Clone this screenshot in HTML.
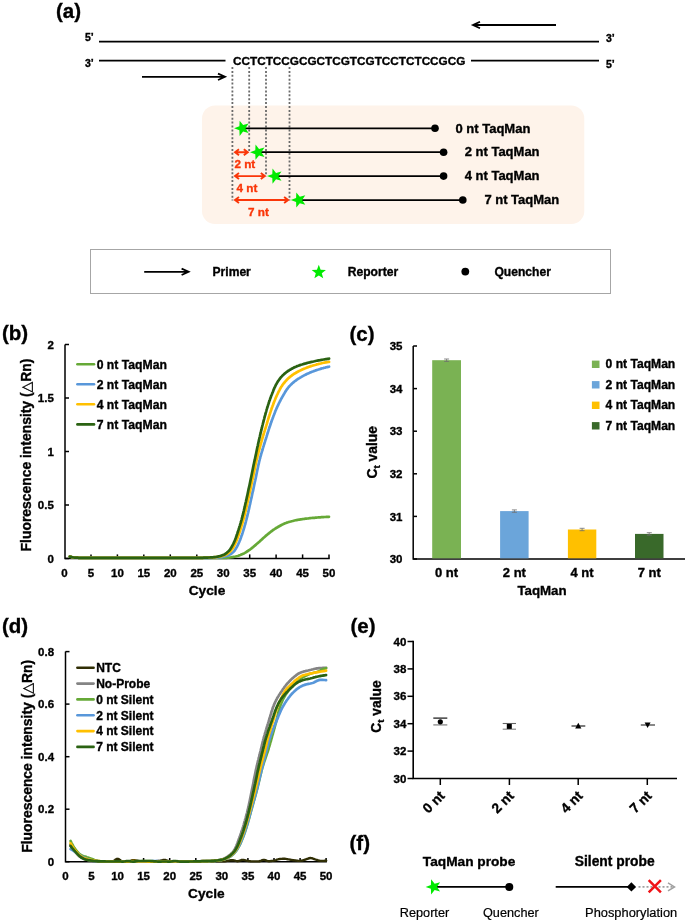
<!DOCTYPE html>
<html lang="en"><head><meta charset="utf-8"><title>TaqMan probe figure</title>
<style>html,body{margin:0;padding:0;background:#fff}body{width:685px;height:923px;overflow:hidden}svg{display:block}</style>
</head><body>
<svg width="685" height="923" viewBox="0 0 685 923" font-family='"Liberation Sans", "DejaVu Sans", sans-serif'>
<rect width="685" height="923" fill="#fff"/>
<text x="56" y="17.5" font-size="20.5" font-weight="bold" text-anchor="start" fill="#000" stroke="#000" stroke-width="0.35" >(a)</text>
<line x1="99" y1="41.7" x2="599" y2="41.7" stroke="#000" stroke-width="1.8"/>
<line x1="99" y1="60.7" x2="225.5" y2="60.7" stroke="#000" stroke-width="1.8"/>
<line x1="471" y1="60.7" x2="599" y2="60.7" stroke="#000" stroke-width="1.8"/>
<text x="85" y="41.4" font-size="10.5" font-weight="bold" text-anchor="start" fill="#000" stroke="#000" stroke-width="0.35" >5’</text>
<text x="85" y="67.3" font-size="10.5" font-weight="bold" text-anchor="start" fill="#000" stroke="#000" stroke-width="0.35" >3’</text>
<text x="606" y="41.5" font-size="10.5" font-weight="bold" text-anchor="start" fill="#000" stroke="#000" stroke-width="0.35" >3’</text>
<text x="606" y="68" font-size="10.5" font-weight="bold" text-anchor="start" fill="#000" stroke="#000" stroke-width="0.35" >5’</text>
<text x="233" y="65" font-size="11.75" font-weight="bold" text-anchor="start" fill="#000" stroke="#000" stroke-width="0.35" >CCTCTCCGCGCTCGTCGTCCTCTCCGCG</text>
<path d="M142,76.8 L225,76.8 M218,73.6 L225,76.8 L218,80.0" fill="none" stroke="#000" stroke-width="1.8" stroke-linejoin="miter"/>
<path d="M556,25 L473,25 M480,21.8 L473,25 L480,28.2" fill="none" stroke="#000" stroke-width="1.8" stroke-linejoin="miter"/>
<rect x="202" y="105.5" width="382.3" height="118.6" rx="13" fill="#fef3ea"/>
<line x1="232.4" y1="67" x2="232.4" y2="200.5" stroke="#6a6a6a" stroke-width="1.8" stroke-dasharray="2 1.9"/>
<line x1="249.2" y1="67" x2="249.2" y2="152.8" stroke="#6a6a6a" stroke-width="1.8" stroke-dasharray="2 1.9"/>
<line x1="266" y1="67" x2="266" y2="176.6" stroke="#6a6a6a" stroke-width="1.8" stroke-dasharray="2 1.9"/>
<line x1="289.5" y1="67" x2="289.5" y2="200.5" stroke="#6a6a6a" stroke-width="1.8" stroke-dasharray="2 1.9"/>
<line x1="242.1" y1="128.3" x2="435" y2="128.3" stroke="#000" stroke-width="1.75"/>
<circle cx="435" cy="128.3" r="3.8" fill="#000"/>
<polygon points="234.10,128.30 239.38,130.27 239.63,135.91 243.14,131.50 248.57,133.00 245.46,128.30 248.57,123.60 243.14,125.10 239.63,120.69 239.38,126.33" fill="#00ea00"/>
<line x1="258" y1="152.2" x2="443.6" y2="152.2" stroke="#000" stroke-width="1.75"/>
<circle cx="443.6" cy="152.2" r="3.8" fill="#000"/>
<polygon points="250.00,152.20 255.28,154.17 255.53,159.81 259.04,155.40 264.47,156.90 261.36,152.20 264.47,147.50 259.04,149.00 255.53,144.59 255.28,150.23" fill="#00ea00"/>
<line x1="275" y1="176.1" x2="443.6" y2="176.1" stroke="#000" stroke-width="1.75"/>
<circle cx="443.6" cy="176.1" r="3.8" fill="#000"/>
<polygon points="267.00,176.10 272.28,178.07 272.53,183.71 276.04,179.30 281.47,180.80 278.36,176.10 281.47,171.40 276.04,172.90 272.53,168.49 272.28,174.13" fill="#00ea00"/>
<line x1="298.8" y1="200" x2="462.8" y2="200" stroke="#000" stroke-width="1.75"/>
<circle cx="462.8" cy="200" r="3.8" fill="#000"/>
<polygon points="290.80,200.00 296.08,201.97 296.33,207.61 299.84,203.20 305.27,204.70 302.16,200.00 305.27,195.30 299.84,196.80 296.33,192.39 296.08,198.03" fill="#00ea00"/>
<text x="455.5" y="132.6" font-size="13.0" font-weight="bold" text-anchor="start" fill="#000" stroke="#000" stroke-width="0.35" >0 nt TaqMan</text>
<text x="464.7" y="156.4" font-size="13.0" font-weight="bold" text-anchor="start" fill="#000" stroke="#000" stroke-width="0.35" >2 nt TaqMan</text>
<text x="464.7" y="180.4" font-size="13.0" font-weight="bold" text-anchor="start" fill="#000" stroke="#000" stroke-width="0.35" >4 nt TaqMan</text>
<text x="484.4" y="204.4" font-size="13.0" font-weight="bold" text-anchor="start" fill="#000" stroke="#000" stroke-width="0.35" >7 nt TaqMan</text>
<path d="M235.0,152.2 L247.8,152.2 M239.0,149.2 L235.0,152.2 L239.0,155.2 M243.8,149.2 L247.8,152.2 L243.8,155.2" fill="none" stroke="#fa3609" stroke-width="1.9"/>
<path d="M235.0,176.1 L264.8,176.1 M239.0,173.1 L235.0,176.1 L239.0,179.1 M260.8,173.1 L264.8,176.1 L260.8,179.1" fill="none" stroke="#fa3609" stroke-width="1.9"/>
<path d="M235.0,200 L288.1,200 M239.0,197 L235.0,200 L239.0,203 M284.1,197 L288.1,200 L284.1,203" fill="none" stroke="#fa3609" stroke-width="1.9"/>
<text x="234.4" y="168" font-size="11.7" font-weight="bold" text-anchor="start" fill="#fa3609" stroke="#fa3609" stroke-width="0.35" >2 nt</text>
<text x="236.6" y="191.5" font-size="11.7" font-weight="bold" text-anchor="start" fill="#fa3609" stroke="#fa3609" stroke-width="0.35" >4 nt</text>
<text x="248" y="215.5" font-size="11.7" font-weight="bold" text-anchor="start" fill="#fa3609" stroke="#fa3609" stroke-width="0.35" >7 nt</text>
<rect x="90.5" y="249.5" width="520" height="44" fill="#fff" stroke="#a6a6a6" stroke-width="1"/>
<path d="M144.2,271.8 L188.6,271.8 M181.6,268.6 L188.6,271.8 L181.6,275.0" fill="none" stroke="#000" stroke-width="1.8" stroke-linejoin="miter"/>
<text x="212.5" y="276.3" font-size="12.1" font-weight="bold" text-anchor="start" fill="#000" stroke="#000" stroke-width="0.35" >Primer</text>
<polygon points="318.80,264.80 316.95,269.75 311.67,269.98 315.80,273.27 314.39,278.37 318.80,275.45 323.21,278.37 321.80,273.27 325.93,269.98 320.65,269.75" fill="#00ea00"/>
<text x="347.7" y="276.3" font-size="12.1" font-weight="bold" text-anchor="start" fill="#000" stroke="#000" stroke-width="0.35" >Reporter</text>
<circle cx="465.3" cy="271.6" r="3.9" fill="#000"/>
<text x="494.4" y="276.3" font-size="12.1" font-weight="bold" text-anchor="start" fill="#000" stroke="#000" stroke-width="0.35" >Quencher</text>
<text x="2" y="340.3" font-size="20.5" font-weight="bold" text-anchor="start" fill="#000" stroke="#000" stroke-width="0.35" >(b)</text>
<path d="M65,344.5 L65,558.5 L329.7,558.5" fill="none" stroke="#000" stroke-width="1.5"/>
<line x1="65" y1="558.5" x2="69" y2="558.5" stroke="#000" stroke-width="1.5"/>
<text x="53.8" y="562.5" font-size="11.5" font-weight="bold" text-anchor="end" fill="#000" stroke="#000" stroke-width="0.35" >0</text>
<line x1="65" y1="505.0" x2="69" y2="505.0" stroke="#000" stroke-width="1.5"/>
<text x="53.8" y="509.0" font-size="11.5" font-weight="bold" text-anchor="end" fill="#000" stroke="#000" stroke-width="0.35" >0.5</text>
<line x1="65" y1="451.5" x2="69" y2="451.5" stroke="#000" stroke-width="1.5"/>
<text x="53.8" y="455.5" font-size="11.5" font-weight="bold" text-anchor="end" fill="#000" stroke="#000" stroke-width="0.35" >1</text>
<line x1="65" y1="398.0" x2="69" y2="398.0" stroke="#000" stroke-width="1.5"/>
<text x="53.8" y="402.0" font-size="11.5" font-weight="bold" text-anchor="end" fill="#000" stroke="#000" stroke-width="0.35" >1.5</text>
<line x1="65" y1="344.5" x2="69" y2="344.5" stroke="#000" stroke-width="1.5"/>
<text x="53.8" y="348.5" font-size="11.5" font-weight="bold" text-anchor="end" fill="#000" stroke="#000" stroke-width="0.35" >2</text>
<text x="64.5" y="577.2" font-size="11.5" font-weight="bold" text-anchor="middle" fill="#000" stroke="#000" stroke-width="0.35" >0</text>
<line x1="91.0" y1="558.5" x2="91.0" y2="554.4" stroke="#000" stroke-width="1.5"/>
<text x="91.0" y="577.2" font-size="11.5" font-weight="bold" text-anchor="middle" fill="#000" stroke="#000" stroke-width="0.35" >5</text>
<line x1="117.4" y1="558.5" x2="117.4" y2="554.4" stroke="#000" stroke-width="1.5"/>
<text x="117.4" y="577.2" font-size="11.5" font-weight="bold" text-anchor="middle" fill="#000" stroke="#000" stroke-width="0.35" >10</text>
<line x1="143.8" y1="558.5" x2="143.8" y2="554.4" stroke="#000" stroke-width="1.5"/>
<text x="143.8" y="577.2" font-size="11.5" font-weight="bold" text-anchor="middle" fill="#000" stroke="#000" stroke-width="0.35" >15</text>
<line x1="170.3" y1="558.5" x2="170.3" y2="554.4" stroke="#000" stroke-width="1.5"/>
<text x="170.3" y="577.2" font-size="11.5" font-weight="bold" text-anchor="middle" fill="#000" stroke="#000" stroke-width="0.35" >20</text>
<line x1="196.8" y1="558.5" x2="196.8" y2="554.4" stroke="#000" stroke-width="1.5"/>
<text x="196.8" y="577.2" font-size="11.5" font-weight="bold" text-anchor="middle" fill="#000" stroke="#000" stroke-width="0.35" >25</text>
<line x1="223.2" y1="558.5" x2="223.2" y2="554.4" stroke="#000" stroke-width="1.5"/>
<text x="223.2" y="577.2" font-size="11.5" font-weight="bold" text-anchor="middle" fill="#000" stroke="#000" stroke-width="0.35" >30</text>
<line x1="249.7" y1="558.5" x2="249.7" y2="554.4" stroke="#000" stroke-width="1.5"/>
<text x="249.7" y="577.2" font-size="11.5" font-weight="bold" text-anchor="middle" fill="#000" stroke="#000" stroke-width="0.35" >35</text>
<line x1="276.1" y1="558.5" x2="276.1" y2="554.4" stroke="#000" stroke-width="1.5"/>
<text x="276.1" y="577.2" font-size="11.5" font-weight="bold" text-anchor="middle" fill="#000" stroke="#000" stroke-width="0.35" >40</text>
<line x1="302.6" y1="558.5" x2="302.6" y2="554.4" stroke="#000" stroke-width="1.5"/>
<text x="302.6" y="577.2" font-size="11.5" font-weight="bold" text-anchor="middle" fill="#000" stroke="#000" stroke-width="0.35" >45</text>
<line x1="329.0" y1="558.5" x2="329.0" y2="554.4" stroke="#000" stroke-width="1.5"/>
<text x="329.0" y="577.2" font-size="11.5" font-weight="bold" text-anchor="middle" fill="#000" stroke="#000" stroke-width="0.35" >50</text>
<text x="207" y="595.1" font-size="13.7" font-weight="bold" text-anchor="middle" fill="#000" stroke="#000" stroke-width="0.35" >Cycle</text>
<text transform="translate(30.9,455) rotate(-90)" font-size="13.9" font-weight="bold" stroke="#000" stroke-width="0.35" text-anchor="middle">Fluorescence intensity (<tspan font-weight="normal">△</tspan>Rn)</text>
<path d="M69.8,556.6 L70.8,556.8 L71.8,557.1 L72.7,557.3 L73.7,557.5 L74.7,557.6 L75.7,557.7 L76.7,557.7 L77.7,557.7 L78.7,557.8 L79.7,557.8 L80.7,557.8 L81.7,557.8 L82.7,557.8 L83.7,557.9 L84.7,557.9 L85.7,557.9 L86.7,557.9 L87.7,557.9 L88.7,557.9 L89.7,557.9 L90.7,557.9 L91.7,557.9 L92.7,557.9 L93.7,557.9 L94.7,557.9 L95.7,557.9 L96.7,557.9 L97.7,557.9 L98.7,557.9 L99.7,557.9 L100.7,557.9 L101.7,557.9 L102.7,557.9 L103.7,557.9 L104.7,557.9 L105.7,557.9 L106.7,557.9 L107.7,557.9 L108.7,557.9 L109.7,557.9 L110.7,557.9 L111.7,557.9 L112.7,557.9 L113.7,557.9 L114.7,557.9 L115.7,557.9 L116.7,557.9 L117.7,557.9 L118.7,557.9 L119.7,557.9 L120.7,557.9 L121.7,557.9 L122.7,557.9 L123.7,557.9 L124.7,557.9 L125.7,557.9 L126.7,557.9 L127.7,557.9 L128.7,557.9 L129.7,557.9 L130.7,557.9 L131.7,557.9 L132.7,557.9 L133.7,557.9 L134.7,557.9 L135.7,557.9 L136.7,557.9 L137.7,557.9 L138.7,557.9 L139.7,557.9 L140.7,557.9 L141.7,557.9 L142.7,557.9 L143.7,557.9 L144.7,557.9 L145.7,557.9 L146.7,557.9 L147.7,557.9 L148.7,557.9 L149.7,557.9 L150.7,557.9 L151.7,557.9 L152.7,557.9 L153.7,557.9 L154.7,557.9 L155.7,557.9 L156.7,557.9 L157.7,557.9 L158.7,557.9 L159.7,557.9 L160.7,557.9 L161.7,557.9 L162.7,557.9 L163.7,557.9 L164.7,557.9 L165.7,557.9 L166.7,557.9 L167.7,557.9 L168.7,557.9 L169.7,557.9 L170.7,557.9 L171.7,557.9 L172.7,557.9 L173.7,557.9 L174.7,557.9 L175.7,557.9 L176.7,557.9 L177.7,557.9 L178.7,557.9 L179.7,557.9 L180.7,557.9 L181.7,557.9 L182.7,557.9 L183.7,557.9 L184.7,557.9 L185.7,557.9 L186.7,557.9 L187.7,557.9 L188.7,557.9 L189.7,557.9 L190.7,557.9 L191.7,557.9 L192.7,557.9 L193.7,557.9 L194.7,557.9 L195.7,557.9 L196.7,557.9 L197.7,557.9 L198.7,557.9 L199.7,557.9 L200.7,557.9 L201.7,557.9 L202.7,557.9 L203.7,557.9 L204.7,557.9 L205.7,557.9 L206.7,557.9 L207.7,557.9 L208.7,557.9 L209.7,557.9 L210.7,557.9 L211.7,557.9 L212.7,557.9 L213.7,557.9 L214.7,557.9 L215.7,557.9 L216.7,557.9 L217.7,557.9 L218.7,557.9 L219.7,557.9 L220.7,557.9 L221.7,557.9 L222.7,557.8 L223.7,557.8 L224.7,557.8 L225.7,557.8 L226.7,557.8 L227.7,557.7 L228.7,557.7 L229.7,557.5 L230.7,557.4 L231.7,557.2 L232.7,557.1 L233.7,556.9 L234.6,556.7 L235.6,556.5 L236.6,556.2 L237.5,556.0 L238.5,555.7 L239.5,555.3 L240.4,555.0 L241.3,554.6 L242.2,554.2 L243.1,553.8 L244.0,553.4 L244.9,552.9 L245.8,552.4 L246.6,551.8 L247.5,551.3 L248.3,550.7 L249.1,550.1 L249.9,549.6 L250.7,549.0 L251.5,548.4 L252.3,547.7 L253.1,547.1 L253.8,546.5 L254.6,545.8 L255.4,545.2 L256.1,544.5 L256.9,543.8 L257.6,543.2 L258.4,542.5 L259.1,541.9 L259.9,541.2 L260.6,540.5 L261.4,539.9 L262.1,539.2 L262.8,538.5 L263.6,537.8 L264.3,537.2 L265.1,536.5 L265.8,535.8 L266.6,535.2 L267.4,534.6 L268.1,533.9 L268.9,533.3 L269.7,532.7 L270.5,532.0 L271.3,531.4 L272.1,530.8 L272.9,530.2 L273.7,529.6 L274.5,529.1 L275.4,528.5 L276.2,528.0 L277.1,527.5 L277.9,527.0 L278.8,526.5 L279.7,526.0 L280.6,525.5 L281.5,525.0 L282.4,524.6 L283.3,524.1 L284.2,523.7 L285.1,523.3 L286.0,523.0 L286.9,522.6 L287.9,522.3 L288.8,522.0 L289.8,521.7 L290.7,521.5 L291.7,521.2 L292.7,521.0 L293.7,520.7 L294.6,520.5 L295.6,520.3 L296.6,520.1 L297.6,519.9 L298.6,519.7 L299.6,519.6 L300.6,519.4 L301.5,519.3 L302.5,519.1 L303.5,519.0 L304.5,518.8 L305.5,518.7 L306.5,518.6 L307.5,518.5 L308.5,518.4 L309.5,518.2 L310.5,518.1 L311.5,518.0 L312.5,517.9 L313.5,517.9 L314.5,517.8 L315.5,517.7 L316.5,517.6 L317.4,517.5 L318.4,517.4 L319.4,517.4 L320.4,517.3 L321.4,517.2 L322.4,517.2 L323.4,517.1 L324.4,517.0 L325.4,517.0 L326.4,516.9 L327.4,516.9 L328.4,516.8 L329.0,516.8" fill="none" stroke="#66a937" stroke-width="2.7" stroke-linejoin="round" stroke-linecap="round"/>
<path d="M69.8,556.6 L70.8,556.8 L71.8,557.1 L72.7,557.3 L73.7,557.5 L74.7,557.6 L75.7,557.7 L76.7,557.7 L77.7,557.7 L78.7,557.8 L79.7,557.8 L80.7,557.8 L81.7,557.8 L82.7,557.8 L83.7,557.9 L84.7,557.9 L85.7,557.9 L86.7,557.9 L87.7,557.9 L88.7,557.9 L89.7,557.9 L90.7,557.9 L91.7,557.9 L92.7,557.9 L93.7,557.9 L94.7,557.9 L95.7,557.9 L96.7,557.9 L97.7,557.9 L98.7,557.9 L99.7,557.9 L100.7,557.9 L101.7,557.9 L102.7,557.9 L103.7,557.9 L104.7,557.9 L105.7,557.9 L106.7,557.9 L107.7,557.9 L108.7,557.9 L109.7,557.9 L110.7,557.9 L111.7,557.9 L112.7,557.9 L113.7,557.9 L114.7,557.9 L115.7,557.9 L116.7,557.9 L117.7,557.9 L118.7,557.9 L119.7,557.9 L120.7,557.9 L121.7,557.9 L122.7,557.9 L123.7,557.9 L124.7,557.9 L125.7,557.9 L126.7,557.9 L127.7,557.9 L128.7,557.9 L129.7,557.9 L130.7,557.9 L131.7,557.9 L132.7,557.9 L133.7,557.9 L134.7,557.9 L135.7,557.9 L136.7,557.9 L137.7,557.9 L138.7,557.9 L139.7,557.9 L140.7,557.9 L141.7,557.9 L142.7,557.9 L143.7,557.9 L144.7,557.9 L145.7,557.9 L146.7,557.9 L147.7,557.9 L148.7,557.9 L149.7,557.9 L150.7,557.9 L151.7,557.9 L152.7,557.9 L153.7,557.9 L154.7,557.9 L155.7,557.9 L156.7,557.9 L157.7,557.9 L158.7,557.9 L159.7,557.9 L160.7,557.9 L161.7,557.9 L162.7,557.9 L163.7,557.9 L164.7,557.9 L165.7,557.9 L166.7,557.9 L167.7,557.9 L168.7,557.9 L169.7,557.9 L170.7,557.9 L171.7,557.9 L172.7,557.9 L173.7,557.9 L174.7,557.9 L175.7,557.9 L176.7,557.9 L177.7,557.9 L178.7,557.9 L179.7,557.9 L180.7,557.9 L181.7,557.9 L182.7,557.9 L183.7,557.9 L184.7,557.9 L185.7,557.9 L186.7,557.9 L187.7,557.9 L188.7,557.9 L189.7,557.9 L190.7,557.9 L191.7,557.9 L192.7,557.9 L193.7,557.9 L194.7,557.9 L195.7,557.9 L196.7,557.9 L197.7,557.9 L198.7,557.9 L199.7,557.9 L200.7,557.9 L201.7,557.9 L202.7,557.9 L203.7,557.9 L204.7,557.9 L205.7,557.9 L206.7,557.9 L207.7,557.8 L208.7,557.8 L209.7,557.8 L210.7,557.8 L211.7,557.7 L212.7,557.7 L213.7,557.7 L214.7,557.7 L215.7,557.6 L216.7,557.6 L217.7,557.6 L218.7,557.5 L219.7,557.5 L220.7,557.4 L221.7,557.2 L222.7,557.0 L223.7,556.8 L224.7,556.5 L225.6,556.3 L226.6,556.0 L227.5,555.7 L228.4,555.3 L229.3,554.9 L230.2,554.4 L231.1,553.8 L231.9,553.2 L232.7,552.5 L233.4,551.9 L234.1,551.2 L234.7,550.5 L235.3,549.6 L235.8,548.8 L236.3,547.9 L236.8,547.0 L237.3,546.1 L237.8,545.2 L238.2,544.3 L238.6,543.4 L239.0,542.5 L239.4,541.6 L239.8,540.6 L240.2,539.7 L240.5,538.8 L240.9,537.8 L241.2,536.9 L241.5,535.9 L241.9,535.0 L242.2,534.0 L242.5,533.1 L242.8,532.1 L243.1,531.2 L243.4,530.2 L243.7,529.3 L244.0,528.3 L244.3,527.4 L244.5,526.4 L244.8,525.4 L245.1,524.5 L245.4,523.5 L245.6,522.5 L245.9,521.6 L246.1,520.6 L246.4,519.6 L246.6,518.7 L246.9,517.7 L247.1,516.7 L247.4,515.8 L247.6,514.8 L247.8,513.8 L248.1,512.8 L248.3,511.9 L248.5,510.9 L248.7,509.9 L249.0,509.0 L249.2,508.0 L249.4,507.0 L249.6,506.0 L249.8,505.0 L250.1,504.1 L250.3,503.1 L250.5,502.1 L250.7,501.1 L250.9,500.2 L251.1,499.2 L251.4,498.2 L251.6,497.2 L251.8,496.3 L252.0,495.3 L252.2,494.3 L252.4,493.3 L252.6,492.3 L252.9,491.4 L253.1,490.4 L253.3,489.4 L253.5,488.4 L253.7,487.5 L253.9,486.5 L254.1,485.5 L254.3,484.5 L254.5,483.5 L254.7,482.6 L254.9,481.6 L255.2,480.6 L255.4,479.6 L255.6,478.7 L255.8,477.7 L256.0,476.7 L256.2,475.7 L256.4,474.7 L256.6,473.8 L256.8,472.8 L257.0,471.8 L257.2,470.8 L257.4,469.8 L257.6,468.9 L257.8,467.9 L258.0,466.9 L258.2,465.9 L258.4,464.9 L258.7,464.0 L258.9,463.0 L259.1,462.0 L259.3,461.1 L259.6,460.1 L259.8,459.1 L260.1,458.2 L260.3,457.2 L260.6,456.2 L260.9,455.3 L261.1,454.3 L261.4,453.3 L261.7,452.4 L262.0,451.4 L262.3,450.5 L262.6,449.5 L262.8,448.5 L263.1,447.6 L263.4,446.6 L263.7,445.7 L264.0,444.7 L264.3,443.8 L264.6,442.8 L264.9,441.9 L265.2,440.9 L265.5,439.9 L265.8,439.0 L266.1,438.0 L266.4,437.1 L266.7,436.1 L267.0,435.2 L267.3,434.2 L267.6,433.3 L267.9,432.3 L268.2,431.3 L268.5,430.4 L268.8,429.4 L269.1,428.5 L269.4,427.5 L269.8,426.6 L270.1,425.6 L270.4,424.7 L270.7,423.8 L271.0,422.8 L271.4,421.9 L271.7,420.9 L272.0,420.0 L272.4,419.0 L272.7,418.1 L273.1,417.2 L273.4,416.2 L273.8,415.3 L274.1,414.4 L274.5,413.4 L274.9,412.5 L275.2,411.6 L275.6,410.6 L276.0,409.7 L276.4,408.8 L276.8,407.9 L277.2,407.0 L277.6,406.1 L278.1,405.2 L278.5,404.2 L278.9,403.3 L279.4,402.4 L279.8,401.5 L280.3,400.7 L280.7,399.8 L281.2,398.9 L281.7,398.0 L282.2,397.1 L282.7,396.3 L283.2,395.4 L283.7,394.5 L284.2,393.7 L284.7,392.8 L285.2,391.9 L285.8,391.1 L286.3,390.2 L286.9,389.4 L287.5,388.6 L288.1,387.8 L288.7,387.0 L289.3,386.3 L290.0,385.6 L290.7,384.9 L291.4,384.2 L292.1,383.5 L292.9,382.8 L293.7,382.2 L294.4,381.5 L295.3,380.9 L296.1,380.3 L296.9,379.7 L297.7,379.2 L298.5,378.6 L299.4,378.1 L300.2,377.6 L301.1,377.1 L301.9,376.6 L302.8,376.1 L303.7,375.6 L304.6,375.1 L305.5,374.7 L306.4,374.2 L307.3,373.8 L308.2,373.4 L309.2,373.0 L310.1,372.6 L311.0,372.2 L311.9,371.8 L312.9,371.5 L313.8,371.1 L314.7,370.8 L315.6,370.4 L316.6,370.1 L317.5,369.8 L318.5,369.5 L319.4,369.2 L320.4,368.9 L321.3,368.6 L322.3,368.3 L323.3,368.1 L324.2,367.8 L325.2,367.6 L326.2,367.3 L327.2,367.1 L328.2,366.9 L329.1,366.7" fill="none" stroke="#5897da" stroke-width="2.7" stroke-linejoin="round" stroke-linecap="round"/>
<path d="M69.8,556.6 L70.8,556.8 L71.8,557.1 L72.7,557.3 L73.7,557.5 L74.7,557.6 L75.7,557.7 L76.7,557.7 L77.7,557.7 L78.7,557.8 L79.7,557.8 L80.7,557.8 L81.7,557.8 L82.7,557.8 L83.7,557.9 L84.7,557.9 L85.7,557.9 L86.7,557.9 L87.7,557.9 L88.7,557.9 L89.7,557.9 L90.7,557.9 L91.7,557.9 L92.7,557.9 L93.7,557.9 L94.7,557.9 L95.7,557.9 L96.7,557.9 L97.7,557.9 L98.7,557.9 L99.7,557.9 L100.7,557.9 L101.7,557.9 L102.7,557.9 L103.7,557.9 L104.7,557.9 L105.7,557.9 L106.7,557.9 L107.7,557.9 L108.7,557.9 L109.7,557.9 L110.7,557.9 L111.7,557.9 L112.7,557.9 L113.7,557.9 L114.7,557.9 L115.7,557.9 L116.7,557.9 L117.7,557.9 L118.7,557.9 L119.7,557.9 L120.7,557.9 L121.7,557.9 L122.7,557.9 L123.7,557.9 L124.7,557.9 L125.7,557.9 L126.7,557.9 L127.7,557.9 L128.7,557.9 L129.7,557.9 L130.7,557.9 L131.7,557.9 L132.7,557.9 L133.7,557.9 L134.7,557.9 L135.7,557.9 L136.7,557.9 L137.7,557.9 L138.7,557.9 L139.7,557.9 L140.7,557.9 L141.7,557.9 L142.7,557.9 L143.7,557.9 L144.7,557.9 L145.7,557.9 L146.7,557.9 L147.7,557.9 L148.7,557.9 L149.7,557.9 L150.7,557.9 L151.7,557.9 L152.7,557.9 L153.7,557.9 L154.7,557.9 L155.7,557.9 L156.7,557.9 L157.7,557.9 L158.7,557.9 L159.7,557.9 L160.7,557.9 L161.7,557.9 L162.7,557.9 L163.7,557.9 L164.7,557.9 L165.7,557.9 L166.7,557.9 L167.7,557.9 L168.7,557.9 L169.7,557.9 L170.7,557.9 L171.7,557.9 L172.7,557.9 L173.7,557.8 L174.7,557.8 L175.7,557.8 L176.7,557.8 L177.7,557.8 L178.7,557.8 L179.7,557.8 L180.7,557.8 L181.7,557.8 L182.7,557.8 L183.7,557.8 L184.7,557.8 L185.7,557.8 L186.7,557.8 L187.7,557.8 L188.7,557.8 L189.7,557.8 L190.7,557.8 L191.7,557.8 L192.7,557.8 L193.7,557.8 L194.7,557.8 L195.7,557.8 L196.7,557.8 L197.7,557.8 L198.7,557.8 L199.7,557.8 L200.7,557.8 L201.7,557.8 L202.7,557.8 L203.7,557.8 L204.7,557.7 L205.7,557.7 L206.7,557.7 L207.7,557.6 L208.7,557.6 L209.7,557.5 L210.7,557.5 L211.7,557.4 L212.7,557.4 L213.7,557.3 L214.7,557.2 L215.7,557.2 L216.7,557.1 L217.7,557.0 L218.7,556.8 L219.7,556.6 L220.7,556.4 L221.7,556.1 L222.6,555.8 L223.6,555.5 L224.5,555.2 L225.4,554.8 L226.3,554.4 L227.1,553.9 L228.0,553.3 L228.8,552.6 L229.6,552.0 L230.3,551.3 L231.0,550.5 L231.6,549.8 L232.2,549.0 L232.7,548.2 L233.3,547.3 L233.8,546.5 L234.2,545.5 L234.7,544.6 L235.1,543.7 L235.6,542.8 L236.0,541.9 L236.4,541.0 L236.8,540.1 L237.1,539.2 L237.5,538.2 L237.8,537.3 L238.2,536.3 L238.5,535.4 L238.8,534.4 L239.1,533.5 L239.5,532.5 L239.8,531.6 L240.1,530.6 L240.4,529.7 L240.7,528.7 L241.0,527.8 L241.3,526.8 L241.6,525.9 L241.9,524.9 L242.2,523.9 L242.4,523.0 L242.7,522.0 L243.0,521.1 L243.2,520.1 L243.5,519.1 L243.8,518.2 L244.0,517.2 L244.3,516.2 L244.5,515.3 L244.8,514.3 L245.0,513.3 L245.2,512.4 L245.5,511.4 L245.7,510.4 L245.9,509.4 L246.2,508.5 L246.4,507.5 L246.6,506.5 L246.8,505.5 L247.0,504.6 L247.3,503.6 L247.5,502.6 L247.7,501.6 L247.9,500.7 L248.1,499.7 L248.3,498.7 L248.6,497.7 L248.8,496.7 L249.0,495.8 L249.2,494.8 L249.4,493.8 L249.6,492.8 L249.8,491.9 L250.1,490.9 L250.3,489.9 L250.5,488.9 L250.7,488.0 L250.9,487.0 L251.1,486.0 L251.3,485.0 L251.5,484.0 L251.7,483.1 L251.9,482.1 L252.1,481.1 L252.3,480.1 L252.6,479.1 L252.8,478.2 L253.0,477.2 L253.2,476.2 L253.4,475.2 L253.6,474.3 L253.8,473.3 L254.0,472.3 L254.2,471.3 L254.4,470.3 L254.6,469.4 L254.8,468.4 L255.0,467.4 L255.2,466.4 L255.4,465.4 L255.6,464.5 L255.8,463.5 L256.0,462.5 L256.2,461.5 L256.5,460.6 L256.7,459.6 L256.9,458.6 L257.2,457.6 L257.4,456.7 L257.6,455.7 L257.9,454.7 L258.1,453.8 L258.4,452.8 L258.6,451.8 L258.9,450.9 L259.2,449.9 L259.4,448.9 L259.7,448.0 L259.9,447.0 L260.2,446.0 L260.5,445.1 L260.7,444.1 L261.0,443.1 L261.3,442.2 L261.6,441.2 L261.8,440.3 L262.1,439.3 L262.4,438.3 L262.7,437.4 L262.9,436.4 L263.2,435.5 L263.5,434.5 L263.8,433.5 L264.1,432.6 L264.4,431.6 L264.7,430.7 L265.0,429.7 L265.3,428.8 L265.6,427.8 L265.9,426.8 L266.2,425.9 L266.5,424.9 L266.8,424.0 L267.1,423.0 L267.3,422.1 L267.6,421.1 L267.9,420.2 L268.2,419.2 L268.5,418.2 L268.8,417.3 L269.1,416.3 L269.4,415.4 L269.7,414.4 L270.0,413.5 L270.3,412.5 L270.6,411.6 L270.9,410.6 L271.3,409.7 L271.6,408.7 L271.9,407.8 L272.3,406.8 L272.6,405.9 L273.0,405.0 L273.3,404.0 L273.7,403.1 L274.0,402.1 L274.4,401.2 L274.8,400.3 L275.1,399.4 L275.5,398.4 L275.9,397.5 L276.3,396.6 L276.7,395.7 L277.1,394.8 L277.6,393.9 L278.0,393.0 L278.4,392.1 L278.9,391.2 L279.4,390.3 L279.8,389.4 L280.3,388.5 L280.8,387.6 L281.3,386.8 L281.9,386.0 L282.4,385.1 L283.0,384.3 L283.6,383.5 L284.2,382.8 L284.9,382.0 L285.5,381.2 L286.2,380.5 L286.9,379.7 L287.6,379.0 L288.3,378.3 L289.1,377.7 L289.8,377.0 L290.6,376.4 L291.4,375.8 L292.2,375.2 L293.0,374.6 L293.8,374.0 L294.7,373.5 L295.6,373.0 L296.4,372.5 L297.3,372.0 L298.2,371.5 L299.1,371.1 L300.0,370.6 L300.8,370.2 L301.8,369.8 L302.7,369.3 L303.6,368.9 L304.5,368.5 L305.4,368.2 L306.4,367.8 L307.3,367.4 L308.3,367.1 L309.2,366.7 L310.2,366.4 L311.1,366.1 L312.1,365.8 L313.0,365.5 L314.0,365.2 L314.9,365.0 L315.9,364.7 L316.8,364.4 L317.8,364.2 L318.8,363.9 L319.7,363.7 L320.7,363.5 L321.7,363.2 L322.7,363.0 L323.6,362.8 L324.6,362.6 L325.6,362.4 L326.6,362.3 L327.6,362.1 L328.6,362.0 L329.1,361.9" fill="none" stroke="#ffc000" stroke-width="2.7" stroke-linejoin="round" stroke-linecap="round"/>
<path d="M69.8,556.6 L70.8,556.8 L71.8,557.1 L72.7,557.3 L73.7,557.5 L74.7,557.6 L75.7,557.7 L76.7,557.7 L77.7,557.7 L78.7,557.8 L79.7,557.8 L80.7,557.8 L81.7,557.8 L82.7,557.8 L83.7,557.9 L84.7,557.9 L85.7,557.9 L86.7,557.9 L87.7,557.9 L88.7,557.9 L89.7,557.9 L90.7,557.9 L91.7,557.9 L92.7,557.9 L93.7,557.9 L94.7,557.9 L95.7,557.9 L96.7,557.9 L97.7,557.9 L98.7,557.9 L99.7,557.9 L100.7,557.9 L101.7,557.9 L102.7,557.9 L103.7,557.9 L104.7,557.9 L105.7,557.9 L106.7,557.9 L107.7,557.9 L108.7,557.9 L109.7,557.9 L110.7,557.9 L111.7,557.9 L112.7,557.9 L113.7,557.9 L114.7,557.9 L115.7,557.9 L116.7,557.9 L117.7,557.9 L118.7,557.9 L119.7,557.9 L120.7,557.9 L121.7,557.9 L122.7,557.9 L123.7,557.9 L124.7,557.9 L125.7,557.9 L126.7,557.9 L127.7,557.9 L128.7,557.9 L129.7,557.9 L130.7,557.9 L131.7,557.9 L132.7,557.9 L133.7,557.9 L134.7,557.9 L135.7,557.9 L136.7,557.9 L137.7,557.9 L138.7,557.9 L139.7,557.9 L140.7,557.9 L141.7,557.9 L142.7,557.9 L143.7,557.9 L144.7,557.9 L145.7,557.9 L146.7,557.9 L147.7,557.9 L148.7,557.9 L149.7,557.9 L150.7,557.9 L151.7,557.9 L152.7,557.9 L153.7,557.9 L154.7,557.9 L155.7,557.9 L156.7,557.9 L157.7,557.9 L158.7,557.9 L159.7,557.9 L160.7,557.9 L161.7,557.9 L162.7,557.9 L163.7,557.9 L164.7,557.9 L165.7,557.9 L166.7,557.9 L167.7,557.9 L168.7,557.9 L169.7,557.9 L170.7,557.9 L171.7,557.9 L172.7,557.9 L173.7,557.9 L174.7,557.8 L175.7,557.8 L176.7,557.8 L177.7,557.8 L178.7,557.8 L179.7,557.8 L180.7,557.8 L181.7,557.8 L182.7,557.8 L183.7,557.8 L184.7,557.8 L185.7,557.8 L186.7,557.8 L187.7,557.8 L188.7,557.8 L189.7,557.8 L190.7,557.8 L191.7,557.8 L192.7,557.8 L193.7,557.8 L194.7,557.8 L195.7,557.8 L196.7,557.8 L197.7,557.8 L198.7,557.8 L199.7,557.8 L200.7,557.8 L201.7,557.8 L202.7,557.8 L203.7,557.7 L204.7,557.7 L205.7,557.7 L206.7,557.6 L207.7,557.6 L208.7,557.5 L209.7,557.5 L210.7,557.4 L211.7,557.3 L212.7,557.3 L213.7,557.2 L214.7,557.1 L215.7,557.0 L216.7,556.8 L217.7,556.6 L218.7,556.4 L219.7,556.2 L220.6,555.9 L221.6,555.6 L222.5,555.2 L223.4,554.9 L224.3,554.5 L225.2,554.0 L226.0,553.4 L226.8,552.8 L227.6,552.1 L228.3,551.4 L229.0,550.7 L229.7,550.0 L230.2,549.2 L230.8,548.4 L231.3,547.5 L231.9,546.6 L232.3,545.7 L232.8,544.8 L233.3,543.9 L233.7,543.0 L234.1,542.1 L234.5,541.2 L234.9,540.3 L235.2,539.4 L235.6,538.4 L236.0,537.5 L236.3,536.5 L236.6,535.6 L237.0,534.6 L237.3,533.7 L237.6,532.7 L237.9,531.8 L238.2,530.8 L238.5,529.9 L238.8,528.9 L239.1,528.0 L239.4,527.0 L239.7,526.1 L240.0,525.1 L240.3,524.1 L240.6,523.2 L240.9,522.2 L241.1,521.3 L241.4,520.3 L241.7,519.3 L241.9,518.4 L242.2,517.4 L242.4,516.4 L242.7,515.5 L242.9,514.5 L243.2,513.5 L243.4,512.5 L243.6,511.6 L243.9,510.6 L244.1,509.6 L244.3,508.7 L244.5,507.7 L244.8,506.7 L245.0,505.7 L245.2,504.8 L245.4,503.8 L245.6,502.8 L245.9,501.8 L246.1,500.8 L246.3,499.9 L246.5,498.9 L246.7,497.9 L246.9,496.9 L247.2,496.0 L247.4,495.0 L247.6,494.0 L247.8,493.0 L248.0,492.1 L248.2,491.1 L248.4,490.1 L248.6,489.1 L248.8,488.1 L249.1,487.2 L249.3,486.2 L249.5,485.2 L249.7,484.2 L249.9,483.3 L250.1,482.3 L250.3,481.3 L250.5,480.3 L250.7,479.3 L250.9,478.4 L251.1,477.4 L251.3,476.4 L251.5,475.4 L251.7,474.4 L251.9,473.5 L252.1,472.5 L252.3,471.5 L252.5,470.5 L252.7,469.5 L252.9,468.6 L253.1,467.6 L253.3,466.6 L253.5,465.6 L253.7,464.6 L253.9,463.7 L254.1,462.7 L254.3,461.7 L254.5,460.7 L254.8,459.8 L255.0,458.8 L255.2,457.8 L255.4,456.8 L255.6,455.8 L255.8,454.9 L256.0,453.9 L256.2,452.9 L256.4,451.9 L256.6,450.9 L256.8,450.0 L257.0,449.0 L257.2,448.0 L257.4,447.0 L257.7,446.1 L257.9,445.1 L258.1,444.1 L258.3,443.1 L258.5,442.2 L258.7,441.2 L259.0,440.2 L259.2,439.2 L259.4,438.3 L259.6,437.3 L259.9,436.3 L260.1,435.3 L260.3,434.4 L260.5,433.4 L260.8,432.4 L261.0,431.4 L261.2,430.5 L261.5,429.5 L261.7,428.5 L262.0,427.5 L262.2,426.6 L262.4,425.6 L262.7,424.6 L262.9,423.7 L263.2,422.7 L263.4,421.7 L263.7,420.8 L263.9,419.8 L264.2,418.8 L264.4,417.9 L264.7,416.9 L264.9,415.9 L265.2,415.0 L265.5,414.0 L265.7,413.0 L266.0,412.1 L266.3,411.1 L266.5,410.1 L266.8,409.2 L267.1,408.2 L267.4,407.3 L267.7,406.3 L268.0,405.4 L268.3,404.4 L268.6,403.5 L268.9,402.5 L269.2,401.6 L269.6,400.6 L269.9,399.7 L270.2,398.7 L270.6,397.8 L270.9,396.8 L271.2,395.9 L271.6,395.0 L272.0,394.0 L272.3,393.1 L272.7,392.2 L273.1,391.2 L273.4,390.3 L273.8,389.4 L274.2,388.4 L274.6,387.5 L275.1,386.6 L275.5,385.7 L275.9,384.8 L276.4,384.0 L276.9,383.1 L277.4,382.3 L277.9,381.4 L278.5,380.6 L279.1,379.7 L279.7,378.9 L280.3,378.1 L280.9,377.3 L281.6,376.6 L282.2,375.9 L282.9,375.2 L283.7,374.5 L284.4,373.8 L285.2,373.2 L286.0,372.5 L286.8,371.9 L287.6,371.3 L288.4,370.7 L289.3,370.2 L290.1,369.7 L291.0,369.2 L291.8,368.7 L292.7,368.2 L293.6,367.8 L294.5,367.3 L295.4,366.9 L296.4,366.5 L297.3,366.1 L298.2,365.8 L299.2,365.4 L300.1,365.1 L301.0,364.8 L302.0,364.5 L302.9,364.2 L303.9,363.9 L304.9,363.6 L305.8,363.4 L306.8,363.1 L307.8,362.8 L308.7,362.6 L309.7,362.4 L310.7,362.1 L311.7,361.9 L312.7,361.7 L313.6,361.5 L314.6,361.3 L315.6,361.0 L316.6,360.8 L317.5,360.6 L318.5,360.4 L319.5,360.3 L320.5,360.1 L321.5,359.9 L322.4,359.7 L323.4,359.5 L324.4,359.4 L325.4,359.2 L326.4,359.1 L327.4,358.9 L328.4,358.8 L329.1,358.7" fill="none" stroke="#2a6212" stroke-width="2.7" stroke-linejoin="round" stroke-linecap="round"/>
<line x1="77.4" y1="364.2" x2="94" y2="364.2" stroke="#66a937" stroke-width="2.6" stroke-linecap="round"/>
<text x="96.7" y="368.5" font-size="12.2" font-weight="bold" text-anchor="start" fill="#000" stroke="#000" stroke-width="0.35" >0 nt TaqMan</text>
<line x1="77.4" y1="384.2" x2="94" y2="384.2" stroke="#5897da" stroke-width="2.6" stroke-linecap="round"/>
<text x="96.7" y="388.6" font-size="12.2" font-weight="bold" text-anchor="start" fill="#000" stroke="#000" stroke-width="0.35" >2 nt TaqMan</text>
<line x1="77.4" y1="404.3" x2="94" y2="404.3" stroke="#ffc000" stroke-width="2.6" stroke-linecap="round"/>
<text x="96.7" y="408.6" font-size="12.2" font-weight="bold" text-anchor="start" fill="#000" stroke="#000" stroke-width="0.35" >4 nt TaqMan</text>
<line x1="77.4" y1="424.4" x2="94" y2="424.4" stroke="#2a6212" stroke-width="2.6" stroke-linecap="round"/>
<text x="96.7" y="428.7" font-size="12.2" font-weight="bold" text-anchor="start" fill="#000" stroke="#000" stroke-width="0.35" >7 nt TaqMan</text>
<text x="349.5" y="340.6" font-size="20.5" font-weight="bold" text-anchor="start" fill="#000" stroke="#000" stroke-width="0.35" >(c)</text>
<path d="M413.2,346 L413.2,559 L685,559" fill="none" stroke="#000" stroke-width="1.5"/>
<line x1="413.2" y1="559.0" x2="417" y2="559.0" stroke="#000" stroke-width="1.5"/>
<text x="402.5" y="563.1" font-size="11.5" font-weight="bold" text-anchor="end" fill="#000" stroke="#000" stroke-width="0.35" >30</text>
<line x1="413.2" y1="516.4" x2="417" y2="516.4" stroke="#000" stroke-width="1.5"/>
<text x="402.5" y="520.5" font-size="11.5" font-weight="bold" text-anchor="end" fill="#000" stroke="#000" stroke-width="0.35" >31</text>
<line x1="413.2" y1="473.8" x2="417" y2="473.8" stroke="#000" stroke-width="1.5"/>
<text x="402.5" y="477.9" font-size="11.5" font-weight="bold" text-anchor="end" fill="#000" stroke="#000" stroke-width="0.35" >32</text>
<line x1="413.2" y1="431.2" x2="417" y2="431.2" stroke="#000" stroke-width="1.5"/>
<text x="402.5" y="435.3" font-size="11.5" font-weight="bold" text-anchor="end" fill="#000" stroke="#000" stroke-width="0.35" >33</text>
<line x1="413.2" y1="388.6" x2="417" y2="388.6" stroke="#000" stroke-width="1.5"/>
<text x="402.5" y="392.7" font-size="11.5" font-weight="bold" text-anchor="end" fill="#000" stroke="#000" stroke-width="0.35" >34</text>
<line x1="413.2" y1="346.0" x2="417" y2="346.0" stroke="#000" stroke-width="1.5"/>
<text x="402.5" y="350.1" font-size="11.5" font-weight="bold" text-anchor="end" fill="#000" stroke="#000" stroke-width="0.35" >35</text>
<rect x="432.2" y="360.2" width="28.8" height="198.1" fill="#7ab253"/>
<path d="M444.1,359.0 H449.1 M444.1,361.4 H449.1 M446.6,359.0 V361.4" stroke="#6e6e6e" stroke-width="0.8" fill="none"/>
<text x="446.6" y="576.9" font-size="13" font-weight="bold" text-anchor="middle" fill="#000" stroke="#000" stroke-width="0.35" >0 nt</text>
<rect x="500.1" y="511.1" width="28.5" height="47.2" fill="#6ba5da"/>
<path d="M511.9,509.9 H516.9 M511.9,512.3 H516.9 M514.4,509.9 V512.3" stroke="#6e6e6e" stroke-width="0.8" fill="none"/>
<text x="514.4" y="576.9" font-size="13" font-weight="bold" text-anchor="middle" fill="#000" stroke="#000" stroke-width="0.35" >2 nt</text>
<rect x="567.9" y="529.5" width="28.4" height="28.8" fill="#ffc000"/>
<path d="M579.6,528.3 H584.6 M579.6,530.7 H584.6 M582.1,528.3 V530.7" stroke="#6e6e6e" stroke-width="0.8" fill="none"/>
<text x="582.1" y="576.9" font-size="13" font-weight="bold" text-anchor="middle" fill="#000" stroke="#000" stroke-width="0.35" >4 nt</text>
<rect x="635" y="533.9" width="28.5" height="24.4" fill="#39692a"/>
<path d="M646.8,532.7 H651.8 M646.8,535.1 H651.8 M649.2,532.7 V535.1" stroke="#6e6e6e" stroke-width="0.8" fill="none"/>
<text x="649.2" y="576.9" font-size="13" font-weight="bold" text-anchor="middle" fill="#000" stroke="#000" stroke-width="0.35" >7 nt</text>
<text x="542" y="595.4" font-size="13.3" font-weight="bold" text-anchor="middle" fill="#000" stroke="#000" stroke-width="0.35" >TaqMan</text>
<text transform="translate(377.4,452.3) rotate(-90)" font-size="13.8" font-weight="bold" stroke="#000" stroke-width="0.35" text-anchor="middle">C<tspan font-size="9.5" dy="3">t</tspan><tspan dy="-3"> value</tspan></text>
<rect x="591.9" y="360.6" width="7.6" height="7.4" fill="#7ab253"/>
<text x="605.6" y="368.1" font-size="12.1" font-weight="bold" text-anchor="start" fill="#000" stroke="#000" stroke-width="0.35" >0 nt TaqMan</text>
<rect x="591.9" y="381.1" width="7.6" height="7.4" fill="#6ba5da"/>
<text x="605.6" y="388.6" font-size="12.1" font-weight="bold" text-anchor="start" fill="#000" stroke="#000" stroke-width="0.35" >2 nt TaqMan</text>
<rect x="591.9" y="401.6" width="7.6" height="7.4" fill="#ffc000"/>
<text x="605.6" y="409.1" font-size="12.1" font-weight="bold" text-anchor="start" fill="#000" stroke="#000" stroke-width="0.35" >4 nt TaqMan</text>
<rect x="591.9" y="422.1" width="7.6" height="7.4" fill="#39692a"/>
<text x="605.6" y="429.6" font-size="12.1" font-weight="bold" text-anchor="start" fill="#000" stroke="#000" stroke-width="0.35" >7 nt TaqMan</text>
<text x="2" y="633.0999999999999" font-size="20.5" font-weight="bold" text-anchor="start" fill="#000" stroke="#000" stroke-width="0.35" >(d)</text>
<path d="M65.5,651.6 L65.5,861.7 L326.9,861.7" fill="none" stroke="#000" stroke-width="1.5"/>
<line x1="65.5" y1="861.7" x2="69.5" y2="861.7" stroke="#000" stroke-width="1.5"/>
<text x="54.1" y="865.7" font-size="11.5" font-weight="bold" text-anchor="end" fill="#000" stroke="#000" stroke-width="0.35" >0</text>
<line x1="65.5" y1="809.2" x2="69.5" y2="809.2" stroke="#000" stroke-width="1.5"/>
<text x="54.1" y="813.2" font-size="11.5" font-weight="bold" text-anchor="end" fill="#000" stroke="#000" stroke-width="0.35" >0.2</text>
<line x1="65.5" y1="756.7" x2="69.5" y2="756.7" stroke="#000" stroke-width="1.5"/>
<text x="54.1" y="760.7" font-size="11.5" font-weight="bold" text-anchor="end" fill="#000" stroke="#000" stroke-width="0.35" >0.4</text>
<line x1="65.5" y1="704.1" x2="69.5" y2="704.1" stroke="#000" stroke-width="1.5"/>
<text x="54.1" y="708.1" font-size="11.5" font-weight="bold" text-anchor="end" fill="#000" stroke="#000" stroke-width="0.35" >0.6</text>
<line x1="65.5" y1="651.6" x2="69.5" y2="651.6" stroke="#000" stroke-width="1.5"/>
<text x="54.1" y="655.6" font-size="11.5" font-weight="bold" text-anchor="end" fill="#000" stroke="#000" stroke-width="0.35" >0.8</text>
<text x="65.4" y="880.3" font-size="11.5" font-weight="bold" text-anchor="middle" fill="#000" stroke="#000" stroke-width="0.35" >0</text>
<line x1="91.5" y1="861.7" x2="91.5" y2="858" stroke="#000" stroke-width="1.5"/>
<text x="91.5" y="880.3" font-size="11.5" font-weight="bold" text-anchor="middle" fill="#000" stroke="#000" stroke-width="0.35" >5</text>
<line x1="117.6" y1="861.7" x2="117.6" y2="858" stroke="#000" stroke-width="1.5"/>
<text x="117.6" y="880.3" font-size="11.5" font-weight="bold" text-anchor="middle" fill="#000" stroke="#000" stroke-width="0.35" >10</text>
<line x1="143.6" y1="861.7" x2="143.6" y2="858" stroke="#000" stroke-width="1.5"/>
<text x="143.6" y="880.3" font-size="11.5" font-weight="bold" text-anchor="middle" fill="#000" stroke="#000" stroke-width="0.35" >15</text>
<line x1="169.7" y1="861.7" x2="169.7" y2="858" stroke="#000" stroke-width="1.5"/>
<text x="169.7" y="880.3" font-size="11.5" font-weight="bold" text-anchor="middle" fill="#000" stroke="#000" stroke-width="0.35" >20</text>
<line x1="195.8" y1="861.7" x2="195.8" y2="858" stroke="#000" stroke-width="1.5"/>
<text x="195.8" y="880.3" font-size="11.5" font-weight="bold" text-anchor="middle" fill="#000" stroke="#000" stroke-width="0.35" >25</text>
<line x1="221.8" y1="861.7" x2="221.8" y2="858" stroke="#000" stroke-width="1.5"/>
<text x="221.8" y="880.3" font-size="11.5" font-weight="bold" text-anchor="middle" fill="#000" stroke="#000" stroke-width="0.35" >30</text>
<line x1="247.9" y1="861.7" x2="247.9" y2="858" stroke="#000" stroke-width="1.5"/>
<text x="247.9" y="880.3" font-size="11.5" font-weight="bold" text-anchor="middle" fill="#000" stroke="#000" stroke-width="0.35" >35</text>
<line x1="274.0" y1="861.7" x2="274.0" y2="858" stroke="#000" stroke-width="1.5"/>
<text x="274.0" y="880.3" font-size="11.5" font-weight="bold" text-anchor="middle" fill="#000" stroke="#000" stroke-width="0.35" >40</text>
<line x1="300.1" y1="861.7" x2="300.1" y2="858" stroke="#000" stroke-width="1.5"/>
<text x="300.1" y="880.3" font-size="11.5" font-weight="bold" text-anchor="middle" fill="#000" stroke="#000" stroke-width="0.35" >45</text>
<line x1="326.1" y1="861.7" x2="326.1" y2="858" stroke="#000" stroke-width="1.5"/>
<text x="326.1" y="880.3" font-size="11.5" font-weight="bold" text-anchor="middle" fill="#000" stroke="#000" stroke-width="0.35" >50</text>
<text x="206.3" y="898.3" font-size="13.7" font-weight="bold" text-anchor="middle" fill="#000" stroke="#000" stroke-width="0.35" >Cycle</text>
<text transform="translate(32,756.3) rotate(-90)" font-size="13.9" font-weight="bold" stroke="#000" stroke-width="0.35" text-anchor="middle">Fluorescence intensity (<tspan font-weight="normal">△</tspan>Rn)</text>
<path d="M70.6,844.6 L71.2,845.4 L71.8,846.2 L72.4,847.0 L73.1,847.8 L73.7,848.6 L74.3,849.4 L74.9,850.1 L75.6,850.9 L76.2,851.7 L76.9,852.5 L77.5,853.3 L78.1,854.1 L78.8,854.8 L79.5,855.6 L80.2,856.3 L80.9,856.9 L81.7,857.4 L82.6,858.0 L83.5,858.5 L84.4,858.9 L85.3,859.3 L86.3,859.6 L87.2,859.9 L88.2,860.1 L89.2,860.3 L90.2,860.5 L91.2,860.6 L92.1,860.7 L93.1,860.8 L94.1,860.9 L95.1,861.0 L96.1,861.1 L97.1,861.2 L98.1,861.3 L99.1,861.5 L100.1,861.6 L101.1,861.7 L102.1,861.7 L103.1,861.7 L104.1,861.7 L105.1,861.7 L106.1,861.7 L107.1,861.7 L108.1,861.7 L109.1,861.7 L110.1,861.6 L111.1,861.5 L112.1,861.5 L113.0,861.3 L113.9,860.8 L114.8,860.2 L115.7,859.5 L116.6,859.0 L117.5,858.8 L118.4,859.0 L119.2,859.4 L120.1,860.1 L121.0,860.7 L121.9,861.2 L122.8,861.4 L123.8,861.5 L124.8,861.6 L125.8,861.6 L126.8,861.7 L127.8,861.7 L128.8,861.6 L129.8,861.3 L130.7,860.9 L131.7,860.4 L132.6,860.2 L133.6,860.1 L134.6,860.2 L135.6,860.4 L136.6,860.6 L137.6,860.8 L138.5,860.9 L139.5,861.1 L140.5,861.3 L141.5,861.5 L142.5,861.6 L143.5,861.7 L144.5,861.7 L145.5,861.7 L146.5,861.7 L147.5,861.7 L148.5,861.7 L149.5,861.7 L150.5,861.7 L151.5,861.6 L152.5,861.5 L153.5,861.5 L154.5,861.4 L155.5,861.3 L156.5,861.2 L157.5,861.1 L158.5,861.0 L159.4,860.9 L160.4,860.7 L161.4,860.4 L162.4,860.2 L163.4,860.0 L164.4,859.9 L165.3,860.0 L166.3,860.3 L167.2,860.6 L168.2,861.0 L169.1,861.3 L170.1,861.5 L171.1,861.5 L172.1,861.6 L173.1,861.7 L174.1,861.7 L175.1,861.7 L176.1,861.6 L177.1,861.5 L178.1,861.4 L179.1,861.2 L180.1,861.2 L181.1,861.2 L182.1,861.2 L183.1,861.3 L184.1,861.4 L185.1,861.4 L186.1,861.5 L187.1,861.5 L188.1,861.6 L189.1,861.7 L190.1,861.7 L191.1,861.7 L192.1,861.6 L193.1,861.5 L194.1,861.3 L195.0,861.2 L196.0,861.2 L197.0,861.3 L198.0,861.4 L199.0,861.5 L200.0,861.7 L201.0,861.7 L202.0,861.7 L203.0,861.6 L204.0,861.5 L205.0,861.5 L206.0,861.4 L207.0,861.5 L208.0,861.5 L209.0,861.6 L210.0,861.7 L211.0,861.7 L212.0,861.7 L213.0,861.6 L214.0,861.4 L215.0,861.3 L216.0,861.2 L217.0,861.2 L218.0,861.2 L219.0,861.3 L220.0,861.4 L221.0,861.4 L222.0,861.4 L223.0,861.4 L224.0,861.3 L225.0,861.2 L226.0,861.1 L226.9,860.9 L227.9,860.8 L228.9,860.6 L229.9,860.4 L230.9,860.2 L231.9,860.1 L232.9,860.2 L233.9,860.4 L234.8,860.6 L235.8,860.9 L236.8,861.1 L237.8,861.2 L238.7,861.0 L239.7,860.7 L240.7,860.3 L241.6,860.0 L242.6,859.9 L243.6,859.9 L244.6,860.1 L245.6,860.4 L246.5,860.6 L247.5,860.8 L248.5,861.0 L249.5,861.1 L250.5,861.3 L251.5,861.4 L252.5,861.4 L253.5,861.4 L254.5,861.4 L255.5,861.4 L256.5,861.4 L257.5,861.4 L258.5,861.4 L259.5,861.3 L260.4,860.9 L261.4,860.5 L262.3,860.1 L263.3,859.9 L264.2,859.9 L265.2,860.2 L266.2,860.5 L267.1,860.9 L268.1,861.1 L269.1,861.2 L270.1,861.1 L271.1,861.0 L272.1,860.9 L273.1,860.8 L274.1,860.6 L275.0,860.4 L276.0,860.1 L276.9,859.7 L277.9,859.4 L278.8,859.1 L279.8,859.0 L280.8,858.9 L281.8,858.9 L282.8,858.8 L283.8,858.8 L284.8,858.8 L285.8,858.9 L286.8,859.1 L287.8,859.3 L288.8,859.4 L289.8,859.6 L290.8,859.8 L291.7,859.9 L292.7,860.1 L293.7,860.2 L294.7,860.4 L295.7,860.5 L296.7,860.6 L297.7,860.8 L298.7,860.9 L299.7,860.9 L300.7,860.9 L301.6,860.7 L302.6,860.5 L303.6,860.1 L304.5,859.8 L305.5,859.5 L306.5,859.2 L307.4,858.8 L308.4,858.5 L309.3,858.2 L310.3,858.0 L311.2,858.1 L312.2,858.3 L313.2,858.7 L314.1,859.0 L315.1,859.4 L316.0,859.7 L317.0,860.0 L318.0,860.3 L318.9,860.6 L319.9,860.8 L320.9,860.9 L321.9,860.9 L322.9,860.9 L323.9,860.9 L324.9,860.8 L325.9,860.7 L326.1,860.6" fill="none" stroke="#302e04" stroke-width="2.4" stroke-linejoin="round" stroke-linecap="round"/>
<path d="M70.6,845.9 L71.2,846.8 L71.8,847.6 L72.4,848.4 L73.0,849.2 L73.6,850.0 L74.3,850.7 L74.9,851.5 L75.6,852.2 L76.2,853.0 L76.9,853.7 L77.6,854.5 L78.3,855.2 L79.0,856.0 L79.8,856.6 L80.6,857.2 L81.4,857.7 L82.2,858.1 L83.2,858.5 L84.1,858.9 L85.1,859.3 L86.0,859.5 L87.0,859.8 L88.0,860.0 L89.0,860.2 L89.9,860.4 L90.9,860.6 L91.9,860.7 L92.9,860.8 L93.9,860.9 L94.9,861.0 L95.9,861.1 L96.9,861.2 L97.9,861.2 L98.9,861.3 L99.9,861.3 L100.9,861.4 L101.9,861.4 L102.9,861.4 L103.9,861.4 L104.9,861.4 L105.9,861.4 L106.9,861.5 L107.9,861.5 L108.9,861.5 L109.9,861.5 L110.9,861.5 L111.9,861.5 L112.9,861.5 L113.9,861.5 L114.9,861.6 L115.9,861.6 L116.9,861.6 L117.9,861.6 L118.9,861.6 L119.9,861.5 L120.9,861.4 L121.9,861.3 L122.9,861.3 L123.9,861.3 L124.9,861.4 L125.9,861.5 L126.9,861.6 L127.9,861.6 L128.9,861.6 L129.9,861.6 L130.9,861.6 L131.9,861.6 L132.9,861.6 L133.9,861.6 L134.9,861.6 L135.9,861.6 L136.9,861.6 L137.9,861.6 L138.9,861.6 L139.9,861.6 L140.9,861.5 L141.9,861.5 L142.9,861.5 L143.9,861.5 L144.9,861.5 L145.9,861.5 L146.9,861.5 L147.9,861.5 L148.9,861.5 L149.9,861.5 L150.9,861.5 L151.9,861.5 L152.9,861.5 L153.9,861.5 L154.9,861.4 L155.9,861.3 L156.9,861.2 L157.9,861.1 L158.9,861.0 L159.9,861.0 L160.9,861.1 L161.8,861.2 L162.8,861.3 L163.8,861.4 L164.8,861.5 L165.8,861.5 L166.8,861.5 L167.8,861.6 L168.8,861.6 L169.8,861.6 L170.8,861.6 L171.8,861.6 L172.8,861.6 L173.8,861.6 L174.8,861.6 L175.8,861.6 L176.8,861.6 L177.8,861.5 L178.8,861.5 L179.8,861.5 L180.8,861.5 L181.8,861.5 L182.8,861.5 L183.8,861.6 L184.8,861.6 L185.8,861.6 L186.8,861.6 L187.8,861.6 L188.8,861.5 L189.8,861.5 L190.8,861.5 L191.8,861.5 L192.8,861.4 L193.8,861.4 L194.8,861.4 L195.8,861.4 L196.8,861.3 L197.8,861.3 L198.8,861.3 L199.8,861.3 L200.8,861.2 L201.8,861.2 L202.8,861.2 L203.8,861.2 L204.8,861.1 L205.8,861.1 L206.8,861.1 L207.8,861.0 L208.8,861.0 L209.8,861.0 L210.8,860.9 L211.8,860.9 L212.8,860.8 L213.8,860.7 L214.8,860.6 L215.8,860.5 L216.9,860.4 L217.8,860.2 L218.8,860.0 L219.8,859.9 L220.8,859.7 L221.7,859.5 L222.6,859.2 L223.6,858.8 L224.5,858.4 L225.4,857.9 L226.3,857.4 L227.2,856.8 L228.0,856.3 L228.8,855.7 L229.6,855.2 L230.4,854.5 L231.1,853.8 L231.9,853.1 L232.6,852.3 L233.2,851.5 L233.8,850.7 L234.3,849.9 L234.8,849.1 L235.3,848.3 L235.7,847.4 L236.1,846.5 L236.5,845.6 L236.9,844.6 L237.2,843.7 L237.6,842.7 L237.9,841.7 L238.3,840.8 L238.6,839.8 L238.9,838.9 L239.3,837.9 L239.6,837.0 L240.0,836.0 L240.3,835.1 L240.6,834.2 L241.0,833.2 L241.3,832.3 L241.6,831.3 L241.9,830.4 L242.3,829.4 L242.6,828.5 L242.9,827.5 L243.2,826.6 L243.5,825.6 L243.8,824.6 L244.0,823.7 L244.3,822.7 L244.6,821.8 L244.9,820.8 L245.1,819.8 L245.4,818.9 L245.7,817.9 L245.9,817.0 L246.2,816.0 L246.5,815.0 L246.7,814.0 L247.0,813.1 L247.2,812.1 L247.4,811.1 L247.7,810.2 L247.9,809.2 L248.1,808.2 L248.4,807.3 L248.6,806.3 L248.8,805.3 L249.0,804.3 L249.2,803.3 L249.4,802.4 L249.6,801.4 L249.8,800.4 L250.0,799.4 L250.2,798.4 L250.4,797.5 L250.6,796.5 L250.8,795.5 L251.0,794.5 L251.2,793.5 L251.4,792.6 L251.6,791.6 L251.8,790.6 L252.0,789.6 L252.2,788.6 L252.4,787.7 L252.6,786.7 L252.8,785.7 L253.0,784.7 L253.2,783.7 L253.4,782.8 L253.6,781.8 L253.7,780.8 L253.9,779.8 L254.1,778.8 L254.3,777.8 L254.5,776.9 L254.7,775.9 L254.9,774.9 L255.1,773.9 L255.3,772.9 L255.5,772.0 L255.7,771.0 L255.9,770.0 L256.2,769.0 L256.4,768.1 L256.6,767.1 L256.8,766.1 L257.0,765.1 L257.3,764.2 L257.5,763.2 L257.7,762.2 L258.0,761.2 L258.2,760.3 L258.5,759.3 L258.7,758.3 L259.0,757.4 L259.2,756.4 L259.4,755.4 L259.7,754.5 L259.9,753.5 L260.2,752.5 L260.4,751.5 L260.7,750.6 L260.9,749.6 L261.1,748.6 L261.4,747.7 L261.6,746.7 L261.8,745.7 L262.0,744.7 L262.3,743.8 L262.5,742.8 L262.7,741.8 L263.0,740.8 L263.2,739.9 L263.5,738.9 L263.7,738.0 L264.0,737.0 L264.3,736.0 L264.6,735.1 L264.8,734.1 L265.1,733.1 L265.4,732.2 L265.7,731.2 L266.0,730.3 L266.3,729.3 L266.5,728.4 L266.8,727.4 L267.1,726.4 L267.4,725.5 L267.7,724.5 L268.0,723.6 L268.3,722.6 L268.6,721.7 L268.9,720.7 L269.2,719.7 L269.5,718.8 L269.7,717.8 L270.0,716.9 L270.3,715.9 L270.6,714.9 L270.9,714.0 L271.2,713.0 L271.4,712.1 L271.7,711.1 L272.1,710.2 L272.4,709.2 L272.7,708.3 L273.0,707.3 L273.4,706.4 L273.8,705.5 L274.1,704.5 L274.5,703.6 L274.9,702.7 L275.3,701.8 L275.8,700.9 L276.2,700.0 L276.7,699.1 L277.1,698.2 L277.6,697.4 L278.2,696.5 L278.7,695.7 L279.2,694.8 L279.8,694.0 L280.3,693.1 L280.9,692.3 L281.5,691.5 L282.0,690.6 L282.6,689.8 L283.1,689.0 L283.7,688.2 L284.3,687.3 L284.9,686.5 L285.5,685.8 L286.1,685.0 L286.8,684.2 L287.4,683.5 L288.1,682.7 L288.8,682.0 L289.5,681.2 L290.2,680.5 L290.9,679.8 L291.6,679.1 L292.3,678.4 L293.1,677.8 L293.8,677.1 L294.6,676.5 L295.4,675.9 L296.2,675.2 L297.0,674.6 L297.8,674.0 L298.7,673.5 L299.6,673.1 L300.4,672.7 L301.4,672.3 L302.3,672.0 L303.2,671.7 L304.2,671.4 L305.2,671.2 L306.2,670.9 L307.2,670.7 L308.1,670.5 L309.1,670.2 L310.1,670.0 L311.1,669.8 L312.0,669.5 L313.0,669.3 L314.0,669.0 L315.0,668.8 L316.0,668.6 L316.9,668.4 L317.9,668.3 L318.9,668.2 L319.9,668.1 L320.9,668.0 L321.9,668.0 L322.9,667.9 L323.9,667.8 L324.9,667.8 L325.9,667.8 L326.1,667.8" fill="none" stroke="#848484" stroke-width="2.7" stroke-linejoin="round" stroke-linecap="round"/>
<path d="M70.6,841.0 L71.0,841.9 L71.4,842.8 L71.9,843.7 L72.4,844.6 L72.9,845.5 L73.4,846.4 L73.9,847.2 L74.5,848.0 L75.0,848.8 L75.6,849.6 L76.2,850.4 L76.9,851.2 L77.5,852.0 L78.2,852.8 L78.9,853.5 L79.7,854.2 L80.5,854.8 L81.3,855.2 L82.1,855.6 L83.1,856.0 L84.0,856.3 L85.0,856.6 L86.0,856.9 L86.9,857.2 L87.9,857.5 L88.8,857.9 L89.8,858.2 L90.7,858.5 L91.7,858.9 L92.6,859.2 L93.5,859.6 L94.5,860.0 L95.4,860.3 L96.4,860.6 L97.3,860.8 L98.3,861.0 L99.3,861.1 L100.3,861.3 L101.3,861.4 L102.3,861.4 L103.3,861.4 L104.3,861.4 L105.3,861.4 L106.3,861.5 L107.3,861.5 L108.3,861.5 L109.3,861.5 L110.3,861.5 L111.3,861.5 L112.3,861.5 L113.3,861.5 L114.3,861.5 L115.3,861.6 L116.3,861.6 L117.3,861.6 L118.3,861.6 L119.3,861.6 L120.3,861.6 L121.3,861.6 L122.3,861.6 L123.3,861.6 L124.3,861.6 L125.3,861.6 L126.3,861.6 L127.3,861.6 L128.3,861.6 L129.3,861.6 L130.3,861.6 L131.3,861.6 L132.3,861.6 L133.3,861.6 L134.3,861.6 L135.3,861.6 L136.3,861.6 L137.3,861.6 L138.3,861.6 L139.3,861.6 L140.3,861.4 L141.3,861.3 L142.3,861.1 L143.3,861.0 L144.3,861.0 L145.3,861.0 L146.3,861.0 L147.3,861.0 L148.3,861.0 L149.3,861.0 L150.3,861.1 L151.3,861.3 L152.2,861.4 L153.2,861.6 L154.2,861.6 L155.2,861.6 L156.2,861.6 L157.2,861.6 L158.2,861.6 L159.2,861.6 L160.2,861.6 L161.2,861.5 L162.2,861.4 L163.2,861.3 L164.2,861.3 L165.2,861.3 L166.2,861.4 L167.2,861.5 L168.2,861.5 L169.2,861.6 L170.2,861.6 L171.2,861.5 L172.2,861.5 L173.2,861.4 L174.2,861.3 L175.2,861.3 L176.2,861.3 L177.2,861.4 L178.2,861.5 L179.2,861.6 L180.2,861.6 L181.2,861.6 L182.2,861.5 L183.2,861.4 L184.2,861.3 L185.2,861.3 L186.2,861.3 L187.2,861.3 L188.2,861.3 L189.2,861.3 L190.2,861.3 L191.2,861.4 L192.2,861.4 L193.2,861.4 L194.2,861.4 L195.2,861.4 L196.2,861.4 L197.2,861.4 L198.2,861.4 L199.2,861.4 L200.2,861.4 L201.2,861.4 L202.2,861.3 L203.2,861.3 L204.2,861.3 L205.2,861.3 L206.2,861.2 L207.2,861.2 L208.2,861.1 L209.2,861.1 L210.2,861.1 L211.2,861.0 L212.2,861.0 L213.2,860.9 L214.2,860.9 L215.2,860.8 L216.2,860.7 L217.2,860.6 L218.2,860.5 L219.2,860.4 L220.2,860.2 L221.2,860.1 L222.2,859.9 L223.1,859.7 L224.1,859.5 L225.0,859.2 L226.0,858.8 L226.9,858.4 L227.8,858.0 L228.7,857.5 L229.6,856.9 L230.4,856.4 L231.2,855.8 L232.0,855.2 L232.7,854.6 L233.5,853.9 L234.2,853.2 L234.9,852.4 L235.6,851.6 L236.2,850.8 L236.8,850.1 L237.3,849.2 L237.8,848.4 L238.3,847.6 L238.8,846.7 L239.3,845.8 L239.7,844.9 L240.2,844.0 L240.6,843.1 L241.0,842.2 L241.4,841.2 L241.8,840.3 L242.2,839.3 L242.6,838.4 L242.9,837.5 L243.3,836.6 L243.7,835.6 L244.0,834.7 L244.3,833.8 L244.7,832.8 L245.0,831.9 L245.3,830.9 L245.6,830.0 L245.9,829.0 L246.2,828.0 L246.5,827.1 L246.8,826.1 L247.1,825.2 L247.4,824.2 L247.7,823.3 L248.0,822.3 L248.2,821.3 L248.5,820.4 L248.8,819.4 L249.1,818.5 L249.3,817.5 L249.6,816.5 L249.8,815.6 L250.1,814.6 L250.4,813.6 L250.6,812.7 L250.9,811.7 L251.2,810.7 L251.4,809.8 L251.7,808.8 L252.0,807.8 L252.2,806.9 L252.5,805.9 L252.8,805.0 L253.0,804.0 L253.3,803.0 L253.6,802.1 L253.8,801.1 L254.1,800.1 L254.4,799.2 L254.6,798.2 L254.9,797.2 L255.2,796.3 L255.4,795.3 L255.7,794.4 L256.0,793.4 L256.2,792.4 L256.5,791.5 L256.7,790.5 L257.0,789.5 L257.3,788.6 L257.5,787.6 L257.8,786.6 L258.0,785.6 L258.2,784.7 L258.5,783.7 L258.7,782.7 L258.9,781.8 L259.1,780.8 L259.4,779.8 L259.6,778.8 L259.8,777.9 L260.0,776.9 L260.3,775.9 L260.5,774.9 L260.7,774.0 L261.0,773.0 L261.2,772.0 L261.4,771.0 L261.7,770.1 L262.0,769.1 L262.2,768.2 L262.5,767.2 L262.8,766.2 L263.1,765.3 L263.4,764.3 L263.7,763.4 L264.0,762.4 L264.3,761.5 L264.6,760.5 L265.0,759.6 L265.3,758.6 L265.6,757.7 L265.9,756.8 L266.3,755.8 L266.6,754.9 L266.9,753.9 L267.2,753.0 L267.6,752.0 L267.9,751.1 L268.2,750.1 L268.5,749.2 L268.7,748.2 L269.0,747.2 L269.3,746.3 L269.6,745.3 L269.9,744.4 L270.1,743.4 L270.4,742.4 L270.7,741.5 L271.0,740.5 L271.2,739.5 L271.5,738.6 L271.8,737.6 L272.0,736.7 L272.3,735.7 L272.6,734.7 L272.9,733.8 L273.1,732.8 L273.4,731.8 L273.7,730.9 L273.9,729.9 L274.2,728.9 L274.5,728.0 L274.7,727.0 L275.0,726.1 L275.2,725.1 L275.5,724.1 L275.8,723.2 L276.0,722.2 L276.3,721.2 L276.5,720.3 L276.8,719.3 L277.0,718.3 L277.3,717.3 L277.5,716.4 L277.7,715.4 L277.9,714.4 L278.2,713.4 L278.4,712.5 L278.6,711.5 L278.9,710.5 L279.2,709.6 L279.4,708.6 L279.7,707.7 L280.0,706.7 L280.3,705.8 L280.7,704.8 L281.0,703.9 L281.4,702.9 L281.8,702.0 L282.2,701.1 L282.6,700.2 L283.0,699.3 L283.5,698.4 L284.0,697.5 L284.5,696.7 L285.0,695.8 L285.5,694.9 L286.0,694.1 L286.6,693.3 L287.2,692.4 L287.7,691.6 L288.3,690.8 L288.9,690.0 L289.4,689.1 L290.0,688.3 L290.7,687.5 L291.3,686.7 L291.9,686.0 L292.6,685.2 L293.2,684.5 L293.9,683.8 L294.6,683.1 L295.4,682.4 L296.2,681.8 L297.0,681.1 L297.8,680.5 L298.6,679.9 L299.4,679.4 L300.2,678.8 L301.1,678.3 L301.9,677.8 L302.8,677.3 L303.7,676.8 L304.6,676.3 L305.5,675.9 L306.4,675.4 L307.3,675.0 L308.2,674.6 L309.1,674.2 L310.0,673.8 L311.0,673.5 L311.9,673.2 L312.9,673.0 L313.9,672.7 L314.8,672.5 L315.8,672.2 L316.8,672.0 L317.7,671.7 L318.7,671.3 L319.6,670.9 L320.5,670.5 L321.3,670.0 L322.2,669.5 L323.2,669.1 L324.1,668.8 L325.1,668.5 L326.0,668.2 L326.1,668.2" fill="none" stroke="#66a937" stroke-width="2.7" stroke-linejoin="round" stroke-linecap="round"/>
<path d="M70.6,849.1 L71.5,849.6 L72.4,850.1 L73.2,850.6 L74.1,851.1 L74.9,851.7 L75.8,852.2 L76.6,852.8 L77.4,853.3 L78.2,853.9 L79.0,854.5 L79.8,855.1 L80.6,855.7 L81.5,856.2 L82.4,856.7 L83.3,857.1 L84.2,857.6 L85.1,858.0 L86.0,858.4 L86.9,858.8 L87.8,859.2 L88.8,859.6 L89.7,859.9 L90.7,860.2 L91.6,860.4 L92.6,860.6 L93.6,860.8 L94.6,860.9 L95.6,861.1 L96.6,861.2 L97.6,861.2 L98.6,861.3 L99.6,861.3 L100.6,861.4 L101.6,861.4 L102.6,861.4 L103.6,861.4 L104.6,861.4 L105.6,861.4 L106.6,861.5 L107.6,861.5 L108.6,861.5 L109.6,861.5 L110.6,861.5 L111.6,861.5 L112.6,861.5 L113.6,861.5 L114.6,861.5 L115.6,861.6 L116.6,861.6 L117.6,861.6 L118.6,861.6 L119.6,861.5 L120.6,861.4 L121.6,861.3 L122.6,861.3 L123.6,861.3 L124.6,861.3 L125.6,861.3 L126.6,861.3 L127.6,861.3 L128.6,861.3 L129.6,861.4 L130.6,861.4 L131.6,861.5 L132.6,861.6 L133.5,861.6 L134.5,861.6 L135.6,861.6 L136.6,861.6 L137.6,861.6 L138.6,861.6 L139.5,861.6 L140.5,861.5 L141.5,861.4 L142.5,861.3 L143.5,861.3 L144.5,861.3 L145.5,861.3 L146.5,861.4 L147.5,861.4 L148.5,861.4 L149.5,861.4 L150.5,861.3 L151.5,861.2 L152.5,861.1 L153.5,861.0 L154.5,861.0 L155.5,861.0 L156.5,861.1 L157.5,861.2 L158.5,861.3 L159.5,861.3 L160.5,861.4 L161.5,861.5 L162.5,861.5 L163.5,861.6 L164.5,861.6 L165.5,861.6 L166.5,861.5 L167.5,861.4 L168.5,861.3 L169.5,861.3 L170.5,861.3 L171.5,861.4 L172.5,861.5 L173.5,861.5 L174.5,861.6 L175.5,861.6 L176.5,861.6 L177.5,861.5 L178.5,861.5 L179.5,861.5 L180.5,861.5 L181.5,861.5 L182.5,861.5 L183.5,861.6 L184.5,861.6 L185.5,861.6 L186.5,861.6 L187.5,861.6 L188.5,861.6 L189.5,861.6 L190.5,861.5 L191.5,861.5 L192.5,861.5 L193.5,861.5 L194.5,861.4 L195.5,861.4 L196.5,861.4 L197.5,861.4 L198.5,861.3 L199.5,861.3 L200.5,861.3 L201.5,861.3 L202.5,861.3 L203.5,861.2 L204.5,861.2 L205.5,861.2 L206.5,861.2 L207.5,861.1 L208.5,861.1 L209.5,861.1 L210.5,861.0 L211.5,861.0 L212.5,860.9 L213.5,860.9 L214.5,860.8 L215.5,860.8 L216.5,860.7 L217.5,860.6 L218.5,860.4 L219.5,860.3 L220.5,860.1 L221.5,860.0 L222.4,859.8 L223.4,859.6 L224.3,859.3 L225.3,859.0 L226.2,858.6 L227.1,858.2 L228.0,857.7 L228.9,857.1 L229.8,856.6 L230.6,856.1 L231.4,855.5 L232.1,854.9 L232.9,854.2 L233.6,853.5 L234.3,852.7 L235.0,852.0 L235.6,851.2 L236.2,850.4 L236.8,849.6 L237.3,848.8 L237.8,847.9 L238.3,847.1 L238.8,846.2 L239.3,845.3 L239.7,844.4 L240.2,843.5 L240.6,842.6 L241.0,841.6 L241.4,840.7 L241.8,839.8 L242.2,838.8 L242.6,837.9 L242.9,837.0 L243.3,836.1 L243.6,835.1 L244.0,834.2 L244.3,833.2 L244.6,832.3 L245.0,831.4 L245.3,830.4 L245.6,829.4 L245.9,828.5 L246.2,827.5 L246.5,826.6 L246.8,825.6 L247.1,824.7 L247.3,823.7 L247.6,822.7 L247.9,821.8 L248.2,820.8 L248.5,819.9 L248.7,818.9 L249.0,817.9 L249.3,817.0 L249.5,816.0 L249.8,815.0 L250.1,814.1 L250.3,813.1 L250.6,812.1 L250.8,811.2 L251.1,810.2 L251.4,809.2 L251.6,808.3 L251.9,807.3 L252.2,806.4 L252.4,805.4 L252.7,804.4 L253.0,803.5 L253.2,802.5 L253.5,801.5 L253.8,800.6 L254.1,799.6 L254.3,798.7 L254.6,797.7 L254.9,796.7 L255.1,795.8 L255.4,794.8 L255.7,793.8 L255.9,792.9 L256.2,791.9 L256.4,790.9 L256.7,790.0 L256.9,789.0 L257.2,788.0 L257.4,787.1 L257.7,786.1 L257.9,785.1 L258.2,784.2 L258.4,783.2 L258.6,782.2 L258.9,781.2 L259.1,780.3 L259.4,779.3 L259.6,778.3 L259.8,777.4 L260.0,776.4 L260.3,775.4 L260.5,774.4 L260.7,773.5 L261.0,772.5 L261.2,771.5 L261.4,770.5 L261.7,769.6 L261.9,768.6 L262.2,767.6 L262.4,766.7 L262.7,765.7 L262.9,764.7 L263.1,763.8 L263.4,762.8 L263.6,761.8 L263.9,760.8 L264.1,759.9 L264.4,758.9 L264.6,757.9 L264.9,757.0 L265.1,756.0 L265.4,755.0 L265.6,754.1 L265.9,753.1 L266.1,752.1 L266.4,751.2 L266.6,750.2 L266.9,749.2 L267.1,748.3 L267.4,747.3 L267.6,746.3 L267.9,745.3 L268.1,744.4 L268.4,743.4 L268.6,742.4 L268.9,741.5 L269.1,740.5 L269.4,739.6 L269.7,738.6 L270.0,737.7 L270.4,736.7 L270.7,735.8 L271.0,734.8 L271.4,733.9 L271.7,732.9 L272.1,732.0 L272.4,731.1 L272.8,730.1 L273.1,729.2 L273.5,728.3 L273.9,727.3 L274.3,726.4 L274.6,725.5 L275.0,724.6 L275.4,723.6 L275.8,722.7 L276.2,721.8 L276.5,720.9 L276.9,719.9 L277.3,719.0 L277.7,718.1 L278.1,717.2 L278.4,716.2 L278.8,715.3 L279.2,714.4 L279.6,713.5 L280.0,712.5 L280.4,711.6 L280.8,710.7 L281.2,709.8 L281.7,708.9 L282.1,708.0 L282.6,707.1 L283.1,706.3 L283.6,705.4 L284.1,704.5 L284.6,703.7 L285.1,702.8 L285.7,702.0 L286.2,701.1 L286.8,700.3 L287.4,699.5 L288.0,698.7 L288.5,697.9 L289.2,697.1 L289.8,696.3 L290.4,695.5 L291.1,694.8 L291.7,694.0 L292.4,693.3 L293.1,692.6 L293.8,691.9 L294.5,691.2 L295.3,690.5 L296.0,689.8 L296.8,689.2 L297.6,688.6 L298.4,688.0 L299.2,687.5 L300.1,686.9 L301.0,686.4 L301.9,686.0 L302.8,685.6 L303.7,685.2 L304.6,684.9 L305.6,684.6 L306.6,684.3 L307.5,684.1 L308.5,683.9 L309.5,683.7 L310.5,683.5 L311.5,683.2 L312.4,683.0 L313.4,682.7 L314.3,682.3 L315.2,681.8 L316.2,681.3 L317.1,680.8 L318.0,680.4 L318.9,680.1 L319.9,679.9 L320.8,679.9 L321.8,679.9 L322.8,679.9 L323.8,680.0 L324.8,680.0 L325.8,680.2 L326.1,680.2" fill="none" stroke="#5897da" stroke-width="2.7" stroke-linejoin="round" stroke-linecap="round"/>
<path d="M70.6,843.3 L71.1,844.2 L71.6,845.1 L72.1,846.0 L72.6,846.8 L73.2,847.7 L73.8,848.5 L74.3,849.3 L74.9,850.1 L75.6,850.9 L76.2,851.6 L76.8,852.4 L77.5,853.2 L78.2,853.9 L78.9,854.7 L79.6,855.4 L80.4,856.0 L81.2,856.5 L82.0,857.0 L82.9,857.5 L83.8,857.9 L84.8,858.3 L85.7,858.6 L86.7,858.9 L87.6,859.2 L88.6,859.5 L89.6,859.7 L90.5,859.9 L91.5,860.1 L92.5,860.3 L93.5,860.5 L94.5,860.6 L95.5,860.8 L96.5,860.9 L97.5,861.0 L98.5,861.1 L99.4,861.2 L100.4,861.3 L101.4,861.4 L102.4,861.4 L103.4,861.4 L104.4,861.4 L105.4,861.4 L106.4,861.5 L107.4,861.5 L108.4,861.5 L109.4,861.5 L110.4,861.5 L111.4,861.5 L112.4,861.5 L113.4,861.5 L114.4,861.5 L115.4,861.6 L116.4,861.6 L117.4,861.6 L118.4,861.6 L119.4,861.6 L120.4,861.6 L121.4,861.6 L122.4,861.6 L123.4,861.6 L124.4,861.6 L125.4,861.6 L126.4,861.6 L127.4,861.6 L128.4,861.6 L129.4,861.5 L130.4,861.3 L131.4,861.2 L132.4,861.0 L133.4,861.0 L134.4,861.1 L135.4,861.2 L136.4,861.3 L137.4,861.4 L138.4,861.4 L139.4,861.5 L140.4,861.5 L141.4,861.5 L142.4,861.5 L143.4,861.5 L144.4,861.5 L145.4,861.5 L146.4,861.5 L147.4,861.6 L148.4,861.6 L149.4,861.6 L150.4,861.6 L151.4,861.6 L152.4,861.6 L153.4,861.6 L154.4,861.6 L155.4,861.6 L156.4,861.6 L157.4,861.6 L158.4,861.6 L159.4,861.6 L160.4,861.6 L161.4,861.6 L162.4,861.6 L163.4,861.6 L164.4,861.6 L165.4,861.6 L166.4,861.6 L167.4,861.5 L168.4,861.5 L169.4,861.5 L170.4,861.4 L171.4,861.4 L172.4,861.4 L173.4,861.3 L174.4,861.3 L175.4,861.3 L176.4,861.4 L177.4,861.4 L178.4,861.5 L179.4,861.6 L180.4,861.6 L181.4,861.6 L182.4,861.6 L183.4,861.6 L184.4,861.6 L185.4,861.6 L186.4,861.6 L187.4,861.6 L188.4,861.6 L189.4,861.6 L190.4,861.5 L191.4,861.5 L192.4,861.5 L193.4,861.4 L194.4,861.4 L195.4,861.4 L196.4,861.4 L197.4,861.4 L198.4,861.3 L199.4,861.3 L200.4,861.3 L201.4,861.3 L202.4,861.2 L203.4,861.2 L204.4,861.2 L205.4,861.2 L206.4,861.1 L207.4,861.1 L208.4,861.1 L209.4,861.0 L210.4,861.0 L211.4,861.0 L212.4,860.9 L213.4,860.9 L214.4,860.8 L215.4,860.7 L216.4,860.6 L217.4,860.5 L218.4,860.4 L219.4,860.2 L220.4,860.0 L221.3,859.9 L222.3,859.7 L223.2,859.4 L224.2,859.1 L225.1,858.8 L226.1,858.3 L227.0,857.9 L227.9,857.4 L228.7,856.8 L229.6,856.3 L230.3,855.7 L231.1,855.1 L231.9,854.5 L232.6,853.8 L233.4,853.0 L234.0,852.3 L234.7,851.5 L235.3,850.7 L235.9,849.9 L236.4,849.1 L236.9,848.3 L237.4,847.4 L237.8,846.5 L238.3,845.6 L238.7,844.7 L239.1,843.8 L239.5,842.8 L239.9,841.9 L240.3,841.0 L240.7,840.0 L241.0,839.1 L241.4,838.1 L241.8,837.2 L242.1,836.3 L242.5,835.3 L242.8,834.4 L243.1,833.5 L243.4,832.5 L243.8,831.6 L244.1,830.6 L244.4,829.7 L244.7,828.7 L245.0,827.7 L245.3,826.8 L245.6,825.8 L245.9,824.9 L246.2,823.9 L246.5,823.0 L246.7,822.0 L247.0,821.1 L247.3,820.1 L247.6,819.1 L247.9,818.2 L248.1,817.2 L248.4,816.2 L248.7,815.3 L248.9,814.3 L249.2,813.3 L249.4,812.4 L249.7,811.4 L250.0,810.4 L250.2,809.5 L250.5,808.5 L250.7,807.5 L251.0,806.6 L251.2,805.6 L251.5,804.6 L251.7,803.7 L252.0,802.7 L252.2,801.7 L252.5,800.8 L252.7,799.8 L253.0,798.8 L253.2,797.9 L253.5,796.9 L253.7,795.9 L254.0,795.0 L254.2,794.0 L254.5,793.0 L254.7,792.0 L254.9,791.1 L255.2,790.1 L255.4,789.1 L255.7,788.2 L255.9,787.2 L256.1,786.2 L256.4,785.2 L256.6,784.3 L256.8,783.3 L257.0,782.3 L257.3,781.4 L257.5,780.4 L257.7,779.4 L257.9,778.4 L258.2,777.5 L258.4,776.5 L258.6,775.5 L258.8,774.5 L259.1,773.6 L259.3,772.6 L259.5,771.6 L259.7,770.6 L260.0,769.7 L260.2,768.7 L260.4,767.7 L260.7,766.7 L260.9,765.8 L261.2,764.8 L261.4,763.8 L261.7,762.9 L261.9,761.9 L262.2,760.9 L262.4,760.0 L262.7,759.0 L262.9,758.0 L263.2,757.1 L263.4,756.1 L263.7,755.1 L263.9,754.2 L264.2,753.2 L264.4,752.2 L264.7,751.3 L264.9,750.3 L265.2,749.3 L265.4,748.3 L265.6,747.4 L265.9,746.4 L266.1,745.4 L266.3,744.4 L266.5,743.5 L266.8,742.5 L267.0,741.5 L267.3,740.6 L267.5,739.6 L267.8,738.6 L268.0,737.7 L268.3,736.7 L268.6,735.7 L268.8,734.8 L269.1,733.8 L269.4,732.9 L269.7,731.9 L270.0,730.9 L270.3,730.0 L270.6,729.0 L270.8,728.1 L271.1,727.1 L271.4,726.2 L271.7,725.2 L272.0,724.2 L272.3,723.3 L272.6,722.3 L272.9,721.4 L273.2,720.4 L273.5,719.5 L273.7,718.5 L274.0,717.5 L274.3,716.6 L274.6,715.6 L274.8,714.6 L275.1,713.7 L275.4,712.7 L275.7,711.7 L276.0,710.8 L276.3,709.8 L276.6,708.9 L276.9,708.0 L277.3,707.0 L277.6,706.1 L278.0,705.2 L278.4,704.3 L278.9,703.4 L279.3,702.5 L279.7,701.6 L280.2,700.7 L280.6,699.8 L281.1,698.9 L281.5,697.9 L281.9,697.0 L282.3,696.1 L282.8,695.2 L283.2,694.3 L283.6,693.4 L284.1,692.5 L284.6,691.7 L285.1,690.8 L285.7,690.0 L286.3,689.3 L287.0,688.5 L287.7,687.8 L288.4,687.1 L289.1,686.4 L289.9,685.7 L290.6,685.0 L291.3,684.3 L292.0,683.6 L292.7,682.9 L293.5,682.2 L294.2,681.5 L294.9,680.8 L295.7,680.2 L296.5,679.5 L297.2,678.9 L298.1,678.3 L298.9,677.7 L299.7,677.2 L300.6,676.6 L301.4,676.1 L302.3,675.7 L303.2,675.3 L304.2,675.0 L305.1,674.8 L306.1,674.5 L307.1,674.3 L308.1,674.0 L309.1,673.8 L310.0,673.6 L311.0,673.4 L312.0,673.2 L313.0,673.0 L313.9,672.8 L314.9,672.6 L315.9,672.4 L316.9,672.2 L317.9,672.1 L318.9,671.9 L319.9,671.7 L320.8,671.5 L321.8,671.4 L322.8,671.2 L323.8,671.1 L324.8,670.9 L325.8,670.7 L326.1,670.7" fill="none" stroke="#ffc000" stroke-width="2.7" stroke-linejoin="round" stroke-linecap="round"/>
<path d="M70.6,845.9 L71.2,846.8 L71.8,847.5 L72.4,848.3 L73.1,849.1 L73.7,849.9 L74.4,850.6 L75.0,851.4 L75.7,852.1 L76.4,852.9 L77.1,853.6 L77.8,854.4 L78.5,855.1 L79.2,855.8 L79.9,856.4 L80.7,857.0 L81.5,857.5 L82.4,858.0 L83.3,858.5 L84.2,858.9 L85.2,859.3 L86.1,859.6 L87.1,859.8 L88.1,860.1 L89.1,860.3 L90.0,860.4 L91.0,860.6 L92.0,860.7 L93.0,860.8 L94.0,861.0 L95.0,861.0 L96.0,861.1 L97.0,861.2 L98.0,861.3 L99.0,861.3 L100.0,861.3 L101.0,861.4 L102.0,861.4 L103.0,861.4 L104.0,861.4 L105.0,861.4 L106.0,861.5 L107.0,861.5 L108.0,861.5 L109.0,861.5 L110.0,861.5 L111.0,861.5 L112.0,861.5 L113.0,861.5 L114.0,861.5 L115.0,861.4 L116.0,861.3 L117.0,861.3 L118.0,861.3 L119.0,861.4 L120.0,861.4 L121.0,861.5 L122.0,861.6 L123.0,861.6 L124.0,861.5 L125.0,861.4 L126.0,861.2 L127.0,861.1 L128.0,861.0 L128.9,861.1 L129.9,861.2 L130.9,861.4 L131.9,861.5 L132.9,861.6 L133.9,861.6 L134.9,861.4 L135.9,861.3 L136.9,861.1 L137.9,861.0 L138.9,861.0 L139.9,861.0 L140.9,861.0 L141.9,861.0 L142.9,861.0 L143.9,861.0 L144.9,861.0 L145.9,861.0 L146.9,861.0 L147.9,861.0 L148.9,861.0 L149.9,861.0 L150.9,861.1 L151.9,861.1 L152.9,861.2 L153.9,861.3 L154.9,861.4 L155.9,861.4 L156.9,861.5 L157.9,861.6 L158.9,861.6 L159.9,861.6 L160.9,861.6 L161.9,861.5 L162.9,861.5 L163.9,861.5 L164.9,861.5 L165.9,861.5 L166.9,861.5 L167.9,861.6 L168.9,861.6 L169.9,861.6 L170.9,861.5 L171.9,861.4 L172.8,861.2 L173.8,861.1 L174.8,861.0 L175.8,861.0 L176.8,861.2 L177.8,861.3 L178.8,861.5 L179.8,861.6 L180.8,861.6 L181.8,861.6 L182.8,861.6 L183.8,861.6 L184.8,861.6 L185.8,861.6 L186.8,861.6 L187.8,861.6 L188.8,861.6 L189.8,861.5 L190.8,861.5 L191.8,861.5 L192.8,861.5 L193.8,861.4 L194.8,861.4 L195.8,861.4 L196.8,861.4 L197.8,861.3 L198.8,861.3 L199.8,861.3 L200.8,861.3 L201.8,861.2 L202.8,861.2 L203.8,861.2 L204.8,861.2 L205.8,861.1 L206.8,861.1 L207.8,861.1 L208.8,861.0 L209.8,861.0 L210.8,861.0 L211.8,860.9 L212.8,860.9 L213.8,860.8 L214.8,860.7 L215.8,860.6 L216.8,860.5 L217.8,860.4 L218.8,860.2 L219.8,860.1 L220.8,859.9 L221.7,859.7 L222.7,859.5 L223.6,859.2 L224.5,858.8 L225.5,858.4 L226.4,857.9 L227.3,857.4 L228.2,856.9 L229.0,856.3 L229.8,855.8 L230.6,855.2 L231.3,854.5 L232.1,853.8 L232.8,853.1 L233.5,852.3 L234.2,851.6 L234.8,850.8 L235.3,850.0 L235.8,849.2 L236.3,848.3 L236.8,847.5 L237.2,846.6 L237.7,845.7 L238.1,844.7 L238.5,843.8 L238.9,842.9 L239.2,841.9 L239.6,841.0 L240.0,840.0 L240.3,839.1 L240.7,838.1 L241.1,837.2 L241.4,836.3 L241.8,835.3 L242.1,834.4 L242.4,833.4 L242.8,832.5 L243.1,831.6 L243.4,830.6 L243.7,829.7 L244.0,828.7 L244.3,827.7 L244.6,826.8 L244.9,825.8 L245.2,824.9 L245.5,823.9 L245.8,823.0 L246.0,822.0 L246.3,821.0 L246.6,820.1 L246.8,819.1 L247.1,818.1 L247.4,817.2 L247.6,816.2 L247.9,815.2 L248.1,814.3 L248.4,813.3 L248.6,812.3 L248.9,811.4 L249.1,810.4 L249.3,809.4 L249.6,808.5 L249.8,807.5 L250.1,806.5 L250.3,805.5 L250.5,804.6 L250.7,803.6 L251.0,802.6 L251.2,801.6 L251.4,800.7 L251.6,799.7 L251.9,798.7 L252.1,797.7 L252.3,796.8 L252.5,795.8 L252.7,794.8 L252.9,793.8 L253.1,792.9 L253.4,791.9 L253.6,790.9 L253.8,789.9 L254.0,788.9 L254.2,788.0 L254.4,787.0 L254.6,786.0 L254.8,785.0 L255.1,784.1 L255.3,783.1 L255.5,782.1 L255.7,781.1 L255.9,780.1 L256.1,779.2 L256.3,778.2 L256.5,777.2 L256.7,776.2 L256.9,775.3 L257.1,774.3 L257.3,773.3 L257.5,772.3 L257.7,771.3 L258.0,770.4 L258.2,769.4 L258.4,768.4 L258.6,767.4 L258.8,766.5 L259.1,765.5 L259.3,764.5 L259.5,763.5 L259.8,762.6 L260.0,761.6 L260.2,760.6 L260.5,759.7 L260.7,758.7 L261.0,757.7 L261.2,756.7 L261.5,755.8 L261.7,754.8 L261.9,753.8 L262.2,752.9 L262.4,751.9 L262.7,750.9 L262.9,750.0 L263.1,749.0 L263.4,748.0 L263.6,747.0 L263.9,746.1 L264.1,745.1 L264.3,744.1 L264.6,743.2 L264.8,742.2 L265.1,741.2 L265.3,740.3 L265.6,739.3 L265.9,738.3 L266.2,737.4 L266.5,736.4 L266.8,735.5 L267.1,734.5 L267.4,733.6 L267.7,732.6 L268.0,731.7 L268.3,730.7 L268.7,729.8 L269.0,728.8 L269.3,727.9 L269.7,726.9 L270.0,726.0 L270.3,725.1 L270.7,724.1 L271.0,723.2 L271.3,722.2 L271.7,721.3 L272.0,720.3 L272.3,719.4 L272.6,718.4 L273.0,717.5 L273.3,716.5 L273.6,715.6 L273.9,714.6 L274.2,713.7 L274.6,712.7 L274.9,711.8 L275.2,710.9 L275.6,709.9 L276.0,709.0 L276.3,708.1 L276.7,707.2 L277.1,706.3 L277.6,705.3 L278.0,704.4 L278.4,703.5 L278.9,702.6 L279.4,701.8 L279.9,700.9 L280.4,700.1 L280.9,699.2 L281.5,698.4 L282.1,697.6 L282.7,696.8 L283.4,696.0 L284.0,695.3 L284.7,694.5 L285.4,693.8 L286.0,693.0 L286.7,692.3 L287.4,691.6 L288.1,690.8 L288.8,690.1 L289.5,689.4 L290.2,688.7 L290.9,688.0 L291.7,687.4 L292.4,686.7 L293.1,686.0 L293.9,685.3 L294.6,684.6 L295.4,684.0 L296.2,683.4 L297.0,682.8 L297.9,682.3 L298.7,681.9 L299.7,681.4 L300.6,681.0 L301.5,680.6 L302.5,680.3 L303.4,680.0 L304.4,679.8 L305.3,679.5 L306.3,679.3 L307.3,679.1 L308.3,678.9 L309.3,678.7 L310.2,678.5 L311.2,678.2 L312.2,678.0 L313.1,677.7 L314.1,677.4 L315.1,677.2 L316.0,676.9 L317.0,676.7 L318.0,676.5 L319.0,676.3 L319.9,676.1 L320.9,675.9 L321.9,675.7 L322.9,675.6 L323.9,675.4 L324.9,675.3 L325.9,675.1 L326.1,675.1" fill="none" stroke="#2a6212" stroke-width="2.7" stroke-linejoin="round" stroke-linecap="round"/>
<line x1="77.4" y1="667.8" x2="93.6" y2="667.8" stroke="#302e04" stroke-width="2.6" stroke-linecap="round"/>
<text x="96.2" y="672.1" font-size="12" font-weight="bold" text-anchor="start" fill="#000" stroke="#000" stroke-width="0.35" >NTC</text>
<line x1="77.4" y1="683.6" x2="93.6" y2="683.6" stroke="#848484" stroke-width="2.6" stroke-linecap="round"/>
<text x="96.2" y="687.9" font-size="12" font-weight="bold" text-anchor="start" fill="#000" stroke="#000" stroke-width="0.35" >No-Probe</text>
<line x1="77.4" y1="699.4" x2="93.6" y2="699.4" stroke="#66a937" stroke-width="2.6" stroke-linecap="round"/>
<text x="96.2" y="703.7" font-size="12" font-weight="bold" text-anchor="start" fill="#000" stroke="#000" stroke-width="0.35" >0 nt Silent</text>
<line x1="77.4" y1="715.3" x2="93.6" y2="715.3" stroke="#5897da" stroke-width="2.6" stroke-linecap="round"/>
<text x="96.2" y="719.6" font-size="12" font-weight="bold" text-anchor="start" fill="#000" stroke="#000" stroke-width="0.35" >2 nt Silent</text>
<line x1="77.4" y1="731.1" x2="93.6" y2="731.1" stroke="#ffc000" stroke-width="2.6" stroke-linecap="round"/>
<text x="96.2" y="735.4" font-size="12" font-weight="bold" text-anchor="start" fill="#000" stroke="#000" stroke-width="0.35" >4 nt Silent</text>
<line x1="77.4" y1="746.9" x2="93.6" y2="746.9" stroke="#2a6212" stroke-width="2.6" stroke-linecap="round"/>
<text x="96.2" y="751.2" font-size="12" font-weight="bold" text-anchor="start" fill="#000" stroke="#000" stroke-width="0.35" >7 nt Silent</text>
<text x="350.5" y="633.1999999999999" font-size="20.5" font-weight="bold" text-anchor="start" fill="#000" stroke="#000" stroke-width="0.35" >(e)</text>
<path d="M413.2,640.8 L413.2,778.5 L677,778.5" fill="none" stroke="#000" stroke-width="1.6"/>
<line x1="407.5" y1="778.5" x2="413.2" y2="778.5" stroke="#000" stroke-width="1.5"/>
<text x="406.3" y="782.6" font-size="11.5" font-weight="bold" text-anchor="end" fill="#000" stroke="#000" stroke-width="0.35" >30</text>
<line x1="407.5" y1="751.1" x2="413.2" y2="751.1" stroke="#000" stroke-width="1.5"/>
<text x="406.3" y="755.2" font-size="11.5" font-weight="bold" text-anchor="end" fill="#000" stroke="#000" stroke-width="0.35" >32</text>
<line x1="407.5" y1="723.7" x2="413.2" y2="723.7" stroke="#000" stroke-width="1.5"/>
<text x="406.3" y="727.8" font-size="11.5" font-weight="bold" text-anchor="end" fill="#000" stroke="#000" stroke-width="0.35" >34</text>
<line x1="407.5" y1="696.3" x2="413.2" y2="696.3" stroke="#000" stroke-width="1.5"/>
<text x="406.3" y="700.4" font-size="11.5" font-weight="bold" text-anchor="end" fill="#000" stroke="#000" stroke-width="0.35" >36</text>
<line x1="407.5" y1="668.9" x2="413.2" y2="668.9" stroke="#000" stroke-width="1.5"/>
<text x="406.3" y="673.0" font-size="11.5" font-weight="bold" text-anchor="end" fill="#000" stroke="#000" stroke-width="0.35" >38</text>
<line x1="407.5" y1="641.5" x2="413.2" y2="641.5" stroke="#000" stroke-width="1.5"/>
<text x="406.3" y="645.6" font-size="11.5" font-weight="bold" text-anchor="end" fill="#000" stroke="#000" stroke-width="0.35" >40</text>
<text transform="translate(380.5,706.5) rotate(-90)" font-size="13.8" font-weight="bold" stroke="#000" stroke-width="0.35" text-anchor="middle">C<tspan font-size="9.5" dy="3">t</tspan><tspan dy="-3"> value</tspan></text>
<line x1="440.3" y1="778.5" x2="440.3" y2="785" stroke="#000" stroke-width="1.5"/>
<text transform="translate(445.6,796.7) rotate(-45)" font-size="13.8" font-weight="bold" stroke="#000" stroke-width="0.35" text-anchor="end">0 nt</text>
<line x1="509.4" y1="778.5" x2="509.4" y2="785" stroke="#000" stroke-width="1.5"/>
<text transform="translate(514.7,796.7) rotate(-45)" font-size="13.8" font-weight="bold" stroke="#000" stroke-width="0.35" text-anchor="end">2 nt</text>
<line x1="578.2" y1="778.5" x2="578.2" y2="785" stroke="#000" stroke-width="1.5"/>
<text transform="translate(583.5,796.7) rotate(-45)" font-size="13.8" font-weight="bold" stroke="#000" stroke-width="0.35" text-anchor="end">4 nt</text>
<line x1="647.3" y1="778.5" x2="647.3" y2="785" stroke="#000" stroke-width="1.5"/>
<text transform="translate(652.6,796.7) rotate(-45)" font-size="13.8" font-weight="bold" stroke="#000" stroke-width="0.35" text-anchor="end">7 nt</text>
<path d="M433.3,718.1 H447.3" stroke="#111" stroke-width="1.2"/><path d="M433.3,724.9 H447.3" stroke="#888" stroke-width="1.3"/><circle cx="440.3" cy="721.8" r="2.6" fill="#000"/>
<path d="M502.7,723.5 H516" stroke="#666" stroke-width="1.1"/><path d="M502.7,729.2 H516" stroke="#888" stroke-width="1.2"/><rect x="506.8" y="723.9" width="5" height="5" fill="#000"/>
<path d="M571.5,726 H585.3" stroke="#444" stroke-width="1.4"/><polygon points="578.3,722.8 581.4,728.6 575.2,728.6" fill="#000"/>
<path d="M640.8,725 H655" stroke="#555" stroke-width="1.4"/><polygon points="644.6,722.4 650.6,722.4 647.6,728" fill="#000"/>
<text x="349.5" y="850.3" font-size="20.5" font-weight="bold" text-anchor="start" fill="#000" stroke="#000" stroke-width="0.35" >(f)</text>
<text x="469.1" y="865.8" font-size="13.7" font-weight="bold" text-anchor="middle" fill="#000" stroke="#000" stroke-width="0.35" >TaqMan probe</text>
<text x="614.7" y="865.8" font-size="13.8" font-weight="bold" text-anchor="middle" fill="#000" stroke="#000" stroke-width="0.35" >Silent probe</text>
<line x1="433.6" y1="886.9" x2="509.3" y2="886.9" stroke="#000" stroke-width="1.6"/>
<circle cx="509.3" cy="886.9" r="4" fill="#000"/>
<polygon points="425.60,886.90 430.88,888.87 431.13,894.51 434.64,890.10 440.07,891.60 436.96,886.90 440.07,882.20 434.64,883.70 431.13,879.29 430.88,884.93" fill="#00ea00"/>
<line x1="555.7" y1="886.9" x2="631.4" y2="886.9" stroke="#000" stroke-width="1.6"/>
<polygon points="626.7,886.9 631.4,882.2 636.1,886.9 631.4,891.6" fill="#000"/>
<line x1="638.5" y1="886.9" x2="673.5" y2="886.9" stroke="#a0a0a0" stroke-width="1.6" stroke-dasharray="2 2"/>
<path d="M668,882.9 L674.5,886.9 L668,890.9" fill="none" stroke="#a0a0a0" stroke-width="1.5"/>
<path d="M648.7,880.2 L660.9,892.4 M660.9,880.2 L648.7,892.4" stroke="#f01418" stroke-width="2.5" fill="none"/>
<text x="399.8" y="916.6" font-size="12.7" font-weight="normal" text-anchor="start" fill="#000" stroke="#000" stroke-width="0.2" >Reporter</text>
<text x="483" y="916.6" font-size="12.7" font-weight="normal" text-anchor="start" fill="#000" stroke="#000" stroke-width="0.2" >Quencher</text>
<text x="585.1" y="916.6" font-size="12.85" font-weight="normal" text-anchor="start" fill="#000" stroke="#000" stroke-width="0.2" >Phosphorylation</text>
</svg>
</body></html>
